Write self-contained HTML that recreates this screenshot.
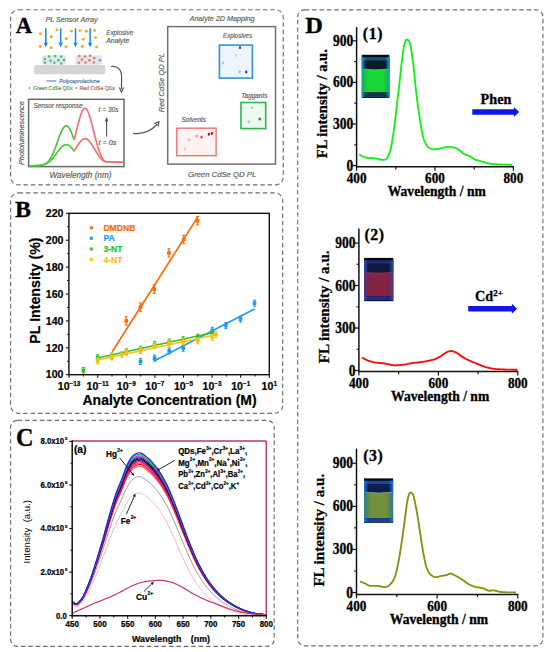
<!DOCTYPE html><html><head><meta charset="utf-8"><style>html,body{margin:0;padding:0;background:#fff;width:550px;height:652px;overflow:hidden}svg{display:block}.hw{font-family:"Liberation Sans",sans-serif;font-style:italic;fill:#5e5e5e;stroke:#5e5e5e;stroke-width:0.18}.sb{font-family:"Liberation Sans",sans-serif;font-weight:bold;stroke:#000;stroke-width:0.2}.s{font-family:"Liberation Sans",sans-serif}.rb{font-family:"Liberation Serif",serif;font-weight:bold;stroke:#000;stroke-width:0.3}</style></head><body>
<svg width="550" height="652" viewBox="0 0 550 652">
<rect x="10.6" y="9.7" width="272.7" height="175.2" rx="8" fill="none" stroke="#6e6e6e" stroke-width="1.15" stroke-dasharray="4.5 2.9"/>
<rect x="10.6" y="192.8" width="272.1" height="220.5" rx="8" fill="none" stroke="#6e6e6e" stroke-width="1.15" stroke-dasharray="4.5 2.9"/>
<rect x="10.6" y="420.3" width="263.6" height="226" rx="7" fill="none" stroke="#6e6e6e" stroke-width="1.15" stroke-dasharray="4.5 2.9"/>
<rect x="297.7" y="9.8" width="245.2" height="636" rx="7" fill="none" stroke="#6e6e6e" stroke-width="1.15" stroke-dasharray="4.5 2.9"/>
<text transform="translate(15.8,32.7) scale(1.03,1.08)" class="rb" font-size="22">A</text>
<text transform="translate(14.9,217.2) scale(1.09,1.04)" class="rb" font-size="22">B</text>
<text transform="translate(16.0,446.0) scale(1.1,1.12)" class="rb" font-size="22">C</text>
<text transform="translate(305.2,33.0) scale(1.11,1.01)" class="rb" font-size="22">D</text>
<text x="45.5" y="22.4" class="hw" font-size="7.4" textLength="52.0" lengthAdjust="spacingAndGlyphs">PL Sensor Array</text>
<text x="106.2" y="34.9" class="hw" font-size="7.4" textLength="27.0" lengthAdjust="spacingAndGlyphs">Explosive</text>
<text x="106.2" y="42.7" class="hw" font-size="7.4" textLength="23.1" lengthAdjust="spacingAndGlyphs">Analyte</text>
<circle cx="40.3" cy="33.7" r="1.45" fill="#ffa600"/>
<circle cx="51.3" cy="36.8" r="1.45" fill="#ffa600"/>
<circle cx="56.9" cy="29.9" r="1.45" fill="#ffa600"/>
<circle cx="40.3" cy="46.5" r="1.45" fill="#ffa600"/>
<circle cx="50.9" cy="47.7" r="1.45" fill="#ffa600"/>
<circle cx="66.2" cy="38.8" r="1.45" fill="#ffa600"/>
<circle cx="65.9" cy="46.7" r="1.45" fill="#ffa600"/>
<circle cx="71.5" cy="31.1" r="1.45" fill="#ffa600"/>
<circle cx="79.8" cy="30.6" r="1.45" fill="#ffa600"/>
<circle cx="86.3" cy="31.2" r="1.45" fill="#ffa600"/>
<circle cx="94.6" cy="30.4" r="1.45" fill="#ffa600"/>
<circle cx="83.1" cy="39.3" r="1.45" fill="#ffa600"/>
<circle cx="95.5" cy="37.6" r="1.45" fill="#ffa600"/>
<circle cx="82.3" cy="46.5" r="1.45" fill="#ffa600"/>
<circle cx="96.5" cy="47" r="1.45" fill="#ffa600"/>
<line x1="45.8" y1="28.3" x2="45.8" y2="44" stroke="#1e88e0" stroke-width="1.55"/>
<path d="M43.599999999999994,42.8 L48.0,42.8 L45.8,47.3 Z" fill="#1e88e0"/>
<line x1="60.7" y1="28.3" x2="60.7" y2="44" stroke="#1e88e0" stroke-width="1.55"/>
<path d="M58.5,42.8 L62.900000000000006,42.8 L60.7,47.3 Z" fill="#1e88e0"/>
<line x1="75.5" y1="28.3" x2="75.5" y2="44" stroke="#1e88e0" stroke-width="1.55"/>
<path d="M73.3,42.8 L77.7,42.8 L75.5,47.3 Z" fill="#1e88e0"/>
<line x1="90.1" y1="28.3" x2="90.1" y2="44" stroke="#1e88e0" stroke-width="1.55"/>
<path d="M87.89999999999999,42.8 L92.3,42.8 L90.1,47.3 Z" fill="#1e88e0"/>
<rect x="42" y="55.2" width="24.2" height="9.6" rx="2" fill="#dde6f5"/>
<rect x="75.5" y="55.2" width="26.3" height="9.6" rx="2" fill="#dde6f5"/>
<rect x="34" y="65" width="71.5" height="9.3" rx="2" fill="#d5d5d5"/>
<circle cx="49" cy="56.6" r="1.25" fill="#43c463"/>
<circle cx="55.1" cy="56" r="1.25" fill="#43c463"/>
<circle cx="61.3" cy="56.6" r="1.25" fill="#43c463"/>
<circle cx="44.9" cy="58.9" r="1.25" fill="#43c463"/>
<circle cx="50.5" cy="60.8" r="1.25" fill="#43c463"/>
<circle cx="58.3" cy="60.2" r="1.25" fill="#43c463"/>
<circle cx="64" cy="59.9" r="1.25" fill="#43c463"/>
<circle cx="44.9" cy="62.7" r="1.25" fill="#43c463"/>
<circle cx="54.3" cy="62.7" r="1.25" fill="#43c463"/>
<circle cx="61.3" cy="63.4" r="1.25" fill="#43c463"/>
<circle cx="79.3" cy="56" r="1.25" fill="#f4724f"/>
<circle cx="85" cy="56.6" r="1.25" fill="#f4724f"/>
<circle cx="90.1" cy="55.7" r="1.25" fill="#f4724f"/>
<circle cx="94.2" cy="57.9" r="1.25" fill="#f4724f"/>
<circle cx="81.8" cy="59.5" r="1.25" fill="#f4724f"/>
<circle cx="89.5" cy="60.2" r="1.25" fill="#f4724f"/>
<circle cx="99.9" cy="60.2" r="1.25" fill="#f4724f"/>
<circle cx="78.9" cy="62.7" r="1.25" fill="#f4724f"/>
<circle cx="85.5" cy="62.5" r="1.25" fill="#f4724f"/>
<circle cx="93.9" cy="62.5" r="1.25" fill="#f4724f"/>
<line x1="46.5" y1="81" x2="56.3" y2="81" stroke="#7aa9ea" stroke-width="1.6"/>
<text x="59.2" y="83.0" class="hw" font-size="5.8" textLength="40.4" lengthAdjust="spacingAndGlyphs" style="fill:#3a86e0">Polycaprolactone</text>
<circle cx="29.5" cy="88" r="0.9" fill="#43c463"/>
<text x="33.2" y="90.1" class="hw" font-size="5.8" textLength="39.5" lengthAdjust="spacingAndGlyphs" style="fill:#43c463">Green CdSe QDs</text>
<circle cx="76.3" cy="88" r="0.9" fill="#f4724f"/>
<text x="79.5" y="90.1" class="hw" font-size="5.8" textLength="35.6" lengthAdjust="spacingAndGlyphs" style="fill:#f4724f">Red CdSe QDs</text>
<path d="M111,66.5 C118,65.5 122,70 121.6,78 L121.5,89" fill="none" stroke="#555" stroke-width="1.2"/>
<path d="M119.4,87.5 L121.5,92 L123.6,87.5" fill="none" stroke="#555" stroke-width="1.2"/>
<rect x="28.6" y="99.3" width="95.4" height="67.3" fill="none" stroke="#676767" stroke-width="1.5"/>
<text x="33.4" y="108.2" class="hw" font-size="6.9" textLength="49.1" lengthAdjust="spacingAndGlyphs">Sensor response</text>
<text transform="translate(24.0,165.0) rotate(-90)" class="hw" font-size="7.6" textLength="63.7" lengthAdjust="spacingAndGlyphs">Photoluminescence</text>
<text x="49.5" y="177.6" class="hw" font-size="8.2" textLength="61.9" lengthAdjust="spacingAndGlyphs">Wavelength (nm)</text>
<text x="98.6" y="112.4" class="hw" font-size="6.7" textLength="20.0" lengthAdjust="spacingAndGlyphs">t = 30s</text>
<text x="98.6" y="145.1" class="hw" font-size="6.7" textLength="17.9" lengthAdjust="spacingAndGlyphs">t = 0s</text>
<line x1="106.6" y1="136.4" x2="106.6" y2="120" stroke="#555" stroke-width="1.1"/>
<path d="M104.8,121.5 L106.6,116.8 L108.4,121.5 Z" fill="#555"/>
<path d="M29.50,165.79L29.89,165.79L30.28,165.79L30.68,165.79L31.07,165.78L31.46,165.78L31.85,165.78L32.24,165.77L32.64,165.77L33.03,165.76L33.42,165.76L33.81,165.75L34.20,165.74L34.60,165.73L34.99,165.72L35.38,165.71L35.77,165.70L36.16,165.68L36.56,165.67L36.95,165.65L37.34,165.63L37.73,165.60L38.13,165.58L38.52,165.55L38.91,165.51L39.30,165.48L39.69,165.43L40.09,165.39L40.48,165.34L40.87,165.28L41.26,165.22L41.65,165.15L42.05,165.07L42.44,164.99L42.83,164.90L43.22,164.80L43.61,164.69L44.01,164.57L44.40,164.44L44.79,164.30L45.18,164.15L45.57,163.99L45.97,163.81L46.36,163.62L46.75,163.42L47.14,163.20L47.53,162.97L47.93,162.72L48.32,162.46L48.71,162.18L49.10,161.89L49.49,161.58L49.89,161.25L50.28,160.90L50.67,160.54L51.06,160.16L51.45,159.77L51.85,159.36L52.24,158.93L52.63,158.49L53.02,158.03L53.42,157.56L53.81,157.08L54.20,156.58L54.59,156.07L54.98,155.56L55.38,155.03L55.77,154.50L56.16,153.96L56.55,153.42L56.94,152.88L57.34,152.34L57.73,151.80L58.12,151.27L58.51,150.74L58.90,150.22L59.30,149.71L59.69,149.21L60.08,148.73L60.47,148.26L60.86,147.82L61.26,147.39L61.65,146.99L62.04,146.62L62.43,146.27L62.82,145.95L63.22,145.66L63.61,145.41L64.00,145.18L64.39,145.00L64.78,144.84L65.18,144.73L65.57,144.65L65.96,144.61L66.35,144.60L66.74,144.64L67.14,144.71L67.53,144.82L67.92,144.96L68.31,145.14L68.71,145.36L69.10,145.60L69.49,145.89L69.88,146.20L70.27,146.54L70.67,146.91L71.06,147.30L71.45,147.72L71.84,148.16L72.23,148.62L72.63,149.10L73.02,149.60L73.41,150.10L73.80,150.62L74.19,151.15" fill="none" stroke="#4cc63a" stroke-width="1.7"/>
<path d="M74.19,151.15L74.59,150.57L74.98,149.91L75.37,149.24L75.76,148.58L76.15,147.92L76.55,147.26L76.94,146.61L77.33,145.98L77.72,145.35L78.11,144.74L78.51,144.14L78.90,143.56L79.29,143.01L79.68,142.48L80.07,141.98L80.47,141.50L80.86,141.06L81.25,140.65L81.64,140.28L82.03,139.94L82.43,139.64L82.82,139.38L83.21,139.16L83.60,138.98L83.99,138.85L84.39,138.75L84.78,138.71L85.17,138.70L85.56,138.75L85.96,138.83L86.35,138.96L86.74,139.13L87.13,139.35L87.52,139.60L87.92,139.90L88.31,140.23L88.70,140.60L89.09,141.01L89.48,141.45L89.88,141.92L90.27,142.42L90.66,142.94L91.05,143.49L91.44,144.07L91.84,144.66L92.23,145.27L92.62,145.90L93.01,146.53L93.40,147.18L93.80,147.84L94.19,148.50L94.58,149.16L94.97,149.82L95.36,150.49L95.76,151.15L96.15,151.80L96.54,152.45L96.93,153.08L97.32,153.71L97.72,154.32L98.11,154.92L98.50,155.50L98.89,156.07L99.28,156.62L99.68,157.15L100.07,157.66L100.46,158.14L100.85,158.61L101.25,159.04L101.64,159.46L102.03,159.84L102.42,160.19L102.81,160.51L103.21,160.79L103.60,161.04L103.99,161.25L104.38,161.42L104.77,161.56L105.17,161.66L105.56,161.74L105.95,161.79L106.34,161.83L106.73,161.85L107.13,161.86L107.52,161.87L107.91,161.87L108.30,161.87L108.69,161.86L109.09,161.86L109.48,161.86L109.87,161.85L110.26,161.84L110.65,161.84L111.05,161.84L111.44,161.83L111.83,161.83L112.22,161.82L112.61,161.82L113.01,161.82L113.40,161.82L113.79,161.81L114.18,161.81L114.57,161.81L114.97,161.81L115.36,161.81L115.75,161.81L116.14,161.81L116.54,161.81L116.93,161.81L117.32,161.80L117.71,161.80L118.10,161.80L118.50,161.80L118.89,161.80L119.28,161.80L119.67,161.80L120.06,161.80L120.46,161.80L120.85,161.80L121.24,161.80L121.63,161.80L122.02,161.80L122.42,161.80L122.81,161.80L123.20,161.80" fill="none" stroke="#f47272" stroke-width="1.7"/>
<path d="M29.50,165.80L29.89,165.79L30.28,165.79L30.68,165.79L31.07,165.79L31.46,165.79L31.85,165.79L32.24,165.78L32.64,165.78L33.03,165.78L33.42,165.77L33.81,165.77L34.20,165.76L34.60,165.75L34.99,165.74L35.38,165.73L35.77,165.72L36.16,165.71L36.56,165.69L36.95,165.68L37.34,165.66L37.73,165.63L38.13,165.61L38.52,165.58L38.91,165.54L39.30,165.50L39.69,165.45L40.09,165.40L40.48,165.34L40.87,165.28L41.26,165.20L41.65,165.12L42.05,165.03L42.44,164.92L42.83,164.80L43.22,164.67L43.61,164.53L44.01,164.37L44.40,164.19L44.79,164.00L45.18,163.78L45.57,163.55L45.97,163.29L46.36,163.01L46.75,162.70L47.14,162.37L47.53,162.01L47.93,161.62L48.32,161.19L48.71,160.74L49.10,160.26L49.49,159.74L49.89,159.18L50.28,158.59L50.67,157.97L51.06,157.30L51.45,156.60L51.85,155.86L52.24,155.09L52.63,154.28L53.02,153.43L53.42,152.55L53.81,151.64L54.20,150.69L54.59,149.72L54.98,148.71L55.38,147.69L55.77,146.64L56.16,145.57L56.55,144.48L56.94,143.39L57.34,142.28L57.73,141.18L58.12,140.07L58.51,138.98L58.90,137.89L59.30,136.82L59.69,135.77L60.08,134.75L60.47,133.76L60.86,132.80L61.26,131.89L61.65,131.03L62.04,130.22L62.43,129.46L62.82,128.77L63.22,128.14L63.61,127.58L64.00,127.09L64.39,126.67L64.78,126.34L65.18,126.08L65.57,125.91L65.96,125.82L66.35,125.81L66.74,125.88L67.14,126.04L67.53,126.27L67.92,126.59L68.31,126.99L68.71,127.46L69.10,128.01L69.49,128.62L69.88,129.30L70.27,130.04L70.67,130.84L71.06,131.70L71.45,132.60L71.84,133.54L72.23,134.53L72.63,135.54L73.02,136.59L73.41,137.65L73.80,138.74L74.19,139.74" fill="none" stroke="#4cc63a" stroke-width="1.7"/>
<path d="M74.19,139.74L74.59,138.23L74.98,136.69L75.37,135.14L75.76,133.56L76.15,131.98L76.55,130.39L76.94,128.81L77.33,127.23L77.72,125.68L78.11,124.14L78.51,122.64L78.90,121.17L79.29,119.75L79.68,118.39L80.07,117.08L80.47,115.85L80.86,114.68L81.25,113.60L81.64,112.61L82.03,111.71L82.43,110.91L82.82,110.22L83.21,109.63L83.60,109.15L83.99,108.79L84.39,108.55L84.78,108.42L85.17,108.41L85.56,108.52L85.96,108.75L86.35,109.10L86.74,109.56L87.13,110.14L87.52,110.82L87.92,111.61L88.31,112.49L88.70,113.47L89.09,114.54L89.48,115.69L89.88,116.92L90.27,118.22L90.66,119.58L91.05,120.99L91.44,122.45L91.84,123.95L92.23,125.48L92.62,127.04L93.01,128.61L93.40,130.19L93.80,131.78L94.19,133.36L94.58,134.94L94.97,136.50L95.36,138.03L95.76,139.55L96.15,141.03L96.54,142.47L96.93,143.88L97.32,145.24L97.72,146.56L98.11,147.84L98.50,149.06L98.89,150.23L99.28,151.35L99.68,152.41L100.07,153.42L100.46,154.38L100.85,155.28L101.25,156.13L101.64,156.92L102.03,157.66L102.42,158.34L102.81,158.96L103.21,159.53L103.60,160.03L103.99,160.47L104.38,160.84L104.77,161.14L105.17,161.38L105.56,161.56L105.95,161.69L106.34,161.77L106.73,161.82L107.13,161.85L107.52,161.87L107.91,161.87L108.30,161.87L108.69,161.87L109.09,161.86L109.48,161.86L109.87,161.85L110.26,161.85L110.65,161.84L111.05,161.84L111.44,161.83L111.83,161.83L112.22,161.82L112.61,161.82L113.01,161.82L113.40,161.82L113.79,161.81L114.18,161.81L114.57,161.81L114.97,161.81L115.36,161.81L115.75,161.81L116.14,161.81L116.54,161.81L116.93,161.81L117.32,161.80L117.71,161.80L118.10,161.80L118.50,161.80L118.89,161.80L119.28,161.80L119.67,161.80L120.06,161.80L120.46,161.80L120.85,161.80L121.24,161.80L121.63,161.80L122.02,161.80L122.42,161.80L122.81,161.80L123.20,161.80" fill="none" stroke="#f47272" stroke-width="1.7"/>
<path d="M133.1,133.3 C143,134.5 151,131 157.5,124" fill="none" stroke="#555" stroke-width="1.2"/>
<path d="M154.4,123.6 L158.9,121.8 L158.2,126.5" fill="none" stroke="#555" stroke-width="1.2"/>
<text x="189.8" y="20.6" class="hw" font-size="7.3" textLength="64.7" lengthAdjust="spacingAndGlyphs">Analyte 2D Mapping</text>
<rect x="167.7" y="26.6" width="107.8" height="137.5" fill="none" stroke="#707070" stroke-width="1.5"/>
<text transform="translate(163.6,112.3) rotate(-90)" class="hw" font-size="7.6" textLength="59.3" lengthAdjust="spacingAndGlyphs">Red CdSe QD PL</text>
<text x="188.0" y="177.3" class="hw" font-size="7.6" textLength="68.2" lengthAdjust="spacingAndGlyphs">Green CdSe QD PL</text>
<text x="223.1" y="38.3" class="hw" font-size="6.8" textLength="28.9" lengthAdjust="spacingAndGlyphs">Explosives</text>
<rect x="219.4" y="45.1" width="33" height="33" fill="#eef4fc" stroke="#2f92dc" stroke-width="1.6"/>
<rect x="239" y="46.300000000000004" width="2" height="2.6" fill="#1a4fb5"/>
<rect x="234.9" y="54.1" width="2" height="2.6" fill="#c8dcf2"/>
<rect x="222.1" y="61.5" width="2" height="2.6" fill="#a9c8ee"/>
<rect x="238.6" y="70.60000000000001" width="2" height="2.6" fill="#8cb6ea"/>
<rect x="245.2" y="70.60000000000001" width="2" height="2.6" fill="#143f99"/>
<text x="241.3" y="98.3" class="hw" font-size="6.8" textLength="26.1" lengthAdjust="spacingAndGlyphs">Taggants</text>
<rect x="241" y="102.5" width="24.7" height="26.1" fill="#eef8f0" stroke="#2db54b" stroke-width="1.6"/>
<rect x="250.9" y="106.4" width="2" height="2.6" fill="#9fe0a8"/>
<rect x="247.7" y="120.60000000000001" width="2" height="2.6" fill="#8ad495"/>
<rect x="258.7" y="117.7" width="2" height="2.6" fill="#137a2a"/>
<text x="181.4" y="122.4" class="hw" font-size="6.8" textLength="24.7" lengthAdjust="spacingAndGlyphs">Solvents</text>
<rect x="176.7" y="128.2" width="39.4" height="27.5" fill="#fdf1f1" stroke="#f27a7a" stroke-width="1.5"/>
<rect x="207.9" y="132.89999999999998" width="2" height="2.6" fill="#c8001a"/>
<rect x="210.9" y="132.1" width="2" height="2.6" fill="#c8001a"/>
<rect x="200.5" y="135.79999999999998" width="2" height="2.6" fill="#f03040"/>
<rect x="195.6" y="134.79999999999998" width="2" height="2.6" fill="#f58a94"/>
<rect x="188.3" y="138.5" width="2" height="2.6" fill="#f7a2a2"/>
<rect x="183.9" y="147.6" width="2" height="2.6" fill="#f9c4c0"/>
<rect x="68.9" y="213.3" width="200.4" height="161.39999999999998" fill="none" stroke="#111" stroke-width="1.4"/>
<line x1="65.9" y1="374.70" x2="68.9" y2="374.70" stroke="#111" stroke-width="1.1"/>
<text x="63.5" y="378.40" class="sb" font-size="10.6" text-anchor="end">100</text>
<line x1="65.9" y1="347.80" x2="68.9" y2="347.80" stroke="#111" stroke-width="1.1"/>
<text x="63.5" y="351.50" class="sb" font-size="10.6" text-anchor="end">120</text>
<line x1="65.9" y1="320.91" x2="68.9" y2="320.91" stroke="#111" stroke-width="1.1"/>
<text x="63.5" y="324.61" class="sb" font-size="10.6" text-anchor="end">140</text>
<line x1="65.9" y1="294.01" x2="68.9" y2="294.01" stroke="#111" stroke-width="1.1"/>
<text x="63.5" y="297.71" class="sb" font-size="10.6" text-anchor="end">160</text>
<line x1="65.9" y1="267.12" x2="68.9" y2="267.12" stroke="#111" stroke-width="1.1"/>
<text x="63.5" y="270.82" class="sb" font-size="10.6" text-anchor="end">180</text>
<line x1="65.9" y1="240.22" x2="68.9" y2="240.22" stroke="#111" stroke-width="1.1"/>
<text x="63.5" y="243.92" class="sb" font-size="10.6" text-anchor="end">200</text>
<line x1="65.9" y1="213.32" x2="68.9" y2="213.32" stroke="#111" stroke-width="1.1"/>
<text x="63.5" y="217.02" class="sb" font-size="10.6" text-anchor="end">220</text>
<line x1="67.10000000000001" y1="361.25" x2="68.9" y2="361.25" stroke="#111" stroke-width="1"/>
<line x1="67.10000000000001" y1="334.36" x2="68.9" y2="334.36" stroke="#111" stroke-width="1"/>
<line x1="67.10000000000001" y1="307.46" x2="68.9" y2="307.46" stroke="#111" stroke-width="1"/>
<line x1="67.10000000000001" y1="280.56" x2="68.9" y2="280.56" stroke="#111" stroke-width="1"/>
<line x1="67.10000000000001" y1="253.67" x2="68.9" y2="253.67" stroke="#111" stroke-width="1"/>
<line x1="67.10000000000001" y1="226.77" x2="68.9" y2="226.77" stroke="#111" stroke-width="1"/>
<line x1="69.10" y1="374.7" x2="69.10" y2="377.7" stroke="#111" stroke-width="1.1"/>
<line x1="83.40" y1="374.7" x2="83.40" y2="376.5" stroke="#111" stroke-width="1.1"/>
<line x1="97.70" y1="374.7" x2="97.70" y2="377.7" stroke="#111" stroke-width="1.1"/>
<line x1="112.00" y1="374.7" x2="112.00" y2="376.5" stroke="#111" stroke-width="1.1"/>
<line x1="126.30" y1="374.7" x2="126.30" y2="377.7" stroke="#111" stroke-width="1.1"/>
<line x1="140.60" y1="374.7" x2="140.60" y2="376.5" stroke="#111" stroke-width="1.1"/>
<line x1="154.90" y1="374.7" x2="154.90" y2="377.7" stroke="#111" stroke-width="1.1"/>
<line x1="169.20" y1="374.7" x2="169.20" y2="376.5" stroke="#111" stroke-width="1.1"/>
<line x1="183.50" y1="374.7" x2="183.50" y2="377.7" stroke="#111" stroke-width="1.1"/>
<line x1="197.80" y1="374.7" x2="197.80" y2="376.5" stroke="#111" stroke-width="1.1"/>
<line x1="212.10" y1="374.7" x2="212.10" y2="377.7" stroke="#111" stroke-width="1.1"/>
<line x1="226.40" y1="374.7" x2="226.40" y2="376.5" stroke="#111" stroke-width="1.1"/>
<line x1="240.70" y1="374.7" x2="240.70" y2="377.7" stroke="#111" stroke-width="1.1"/>
<line x1="255.00" y1="374.7" x2="255.00" y2="376.5" stroke="#111" stroke-width="1.1"/>
<line x1="269.30" y1="374.7" x2="269.30" y2="377.7" stroke="#111" stroke-width="1.1"/>
<text x="69.10" y="390.2" class="sb" font-size="10.6" text-anchor="middle">10<tspan font-size="6.4" dy="-4.0">−13</tspan></text>
<text x="97.70" y="390.2" class="sb" font-size="10.6" text-anchor="middle">10<tspan font-size="6.4" dy="-4.0">−11</tspan></text>
<text x="126.30" y="390.2" class="sb" font-size="10.6" text-anchor="middle">10<tspan font-size="6.4" dy="-4.0">−9</tspan></text>
<text x="154.90" y="390.2" class="sb" font-size="10.6" text-anchor="middle">10<tspan font-size="6.4" dy="-4.0">−7</tspan></text>
<text x="183.50" y="390.2" class="sb" font-size="10.6" text-anchor="middle">10<tspan font-size="6.4" dy="-4.0">−5</tspan></text>
<text x="212.10" y="390.2" class="sb" font-size="10.6" text-anchor="middle">10<tspan font-size="6.4" dy="-4.0">−3</tspan></text>
<text x="240.70" y="390.2" class="sb" font-size="10.6" text-anchor="middle">10<tspan font-size="6.4" dy="-4.0">−1</tspan></text>
<text x="269.30" y="390.2" class="sb" font-size="10.6" text-anchor="middle">10<tspan font-size="6.4" dy="-4.0">1</tspan></text>
<text x="169.6" y="405" class="sb" font-size="14" text-anchor="middle">Analyte Concentration (M)</text>
<text transform="translate(40.0,290.6) rotate(-90)" class="sb" font-size="14.2" text-anchor="middle">PL Intensity (%)</text>
<rect x="89.8" y="226.3" width="3" height="3" fill="#ff6a08"/>
<text x="103.4" y="230.9" class="sb" font-size="8.6" style="fill:#ff6a08;stroke:#ff6a08">DMDNB</text>
<rect x="89.8" y="236.8" width="3" height="3" fill="#1c9cf0"/>
<text x="103.4" y="241.4" class="sb" font-size="8.6" style="fill:#1c9cf0;stroke:#1c9cf0">PA</text>
<rect x="89.8" y="247.5" width="3" height="3" fill="#36c01e"/>
<text x="103.4" y="252.1" class="sb" font-size="8.6" style="fill:#36c01e;stroke:#36c01e">3-NT</text>
<rect x="89.8" y="257.9" width="3" height="3" fill="#fdbd12"/>
<text x="103.4" y="262.5" class="sb" font-size="8.6" style="fill:#fdbd12;stroke:#fdbd12">4-NT</text>
<line x1="140.50" y1="358.50" x2="140.50" y2="364.50" stroke="#1c9cf0" stroke-width="1.2"/><line x1="139.00" y1="358.50" x2="142.00" y2="358.50" stroke="#1c9cf0" stroke-width="1.1"/><line x1="139.00" y1="364.50" x2="142.00" y2="364.50" stroke="#1c9cf0" stroke-width="1.1"/><rect x="138.70" y="359.70" width="3.6" height="3.6" fill="#1c9cf0"/>
<line x1="154.60" y1="355.20" x2="154.60" y2="361.20" stroke="#1c9cf0" stroke-width="1.2"/><line x1="153.10" y1="355.20" x2="156.10" y2="355.20" stroke="#1c9cf0" stroke-width="1.1"/><line x1="153.10" y1="361.20" x2="156.10" y2="361.20" stroke="#1c9cf0" stroke-width="1.1"/><rect x="152.80" y="356.40" width="3.6" height="3.6" fill="#1c9cf0"/>
<line x1="169.20" y1="347.90" x2="169.20" y2="353.90" stroke="#1c9cf0" stroke-width="1.2"/><line x1="167.70" y1="347.90" x2="170.70" y2="347.90" stroke="#1c9cf0" stroke-width="1.1"/><line x1="167.70" y1="353.90" x2="170.70" y2="353.90" stroke="#1c9cf0" stroke-width="1.1"/><rect x="167.40" y="349.10" width="3.6" height="3.6" fill="#1c9cf0"/>
<line x1="183.20" y1="345.20" x2="183.20" y2="351.20" stroke="#1c9cf0" stroke-width="1.2"/><line x1="181.70" y1="345.20" x2="184.70" y2="345.20" stroke="#1c9cf0" stroke-width="1.1"/><line x1="181.70" y1="351.20" x2="184.70" y2="351.20" stroke="#1c9cf0" stroke-width="1.1"/><rect x="181.40" y="346.40" width="3.6" height="3.6" fill="#1c9cf0"/>
<line x1="212.30" y1="327.40" x2="212.30" y2="333.40" stroke="#1c9cf0" stroke-width="1.2"/><line x1="210.80" y1="327.40" x2="213.80" y2="327.40" stroke="#1c9cf0" stroke-width="1.1"/><line x1="210.80" y1="333.40" x2="213.80" y2="333.40" stroke="#1c9cf0" stroke-width="1.1"/><rect x="210.50" y="328.60" width="3.6" height="3.6" fill="#1c9cf0"/>
<line x1="225.90" y1="322.50" x2="225.90" y2="328.50" stroke="#1c9cf0" stroke-width="1.2"/><line x1="224.40" y1="322.50" x2="227.40" y2="322.50" stroke="#1c9cf0" stroke-width="1.1"/><line x1="224.40" y1="328.50" x2="227.40" y2="328.50" stroke="#1c9cf0" stroke-width="1.1"/><rect x="224.10" y="323.70" width="3.6" height="3.6" fill="#1c9cf0"/>
<line x1="240.50" y1="316.10" x2="240.50" y2="322.10" stroke="#1c9cf0" stroke-width="1.2"/><line x1="239.00" y1="316.10" x2="242.00" y2="316.10" stroke="#1c9cf0" stroke-width="1.1"/><line x1="239.00" y1="322.10" x2="242.00" y2="322.10" stroke="#1c9cf0" stroke-width="1.1"/><rect x="238.70" y="317.30" width="3.6" height="3.6" fill="#1c9cf0"/>
<line x1="254.50" y1="300.20" x2="254.50" y2="306.20" stroke="#1c9cf0" stroke-width="1.2"/><line x1="253.00" y1="300.20" x2="256.00" y2="300.20" stroke="#1c9cf0" stroke-width="1.1"/><line x1="253.00" y1="306.20" x2="256.00" y2="306.20" stroke="#1c9cf0" stroke-width="1.1"/><rect x="252.70" y="301.40" width="3.6" height="3.6" fill="#1c9cf0"/>
<line x1="154.1" y1="360.9" x2="254.5" y2="309" stroke="#1c9cf0" stroke-width="1.7"/>
<line x1="83.40" y1="367.50" x2="83.40" y2="373.10" stroke="#36c01e" stroke-width="1.2"/><line x1="81.90" y1="367.50" x2="84.90" y2="367.50" stroke="#36c01e" stroke-width="1.1"/><line x1="81.90" y1="373.10" x2="84.90" y2="373.10" stroke="#36c01e" stroke-width="1.1"/><rect x="81.60" y="368.50" width="3.6" height="3.6" fill="#36c01e"/>
<line x1="97.60" y1="354.80" x2="97.60" y2="360.40" stroke="#36c01e" stroke-width="1.2"/><line x1="96.10" y1="354.80" x2="99.10" y2="354.80" stroke="#36c01e" stroke-width="1.1"/><line x1="96.10" y1="360.40" x2="99.10" y2="360.40" stroke="#36c01e" stroke-width="1.1"/><rect x="95.80" y="355.80" width="3.6" height="3.6" fill="#36c01e"/>
<line x1="111.80" y1="353.00" x2="111.80" y2="358.60" stroke="#36c01e" stroke-width="1.2"/><line x1="110.30" y1="353.00" x2="113.30" y2="353.00" stroke="#36c01e" stroke-width="1.1"/><line x1="110.30" y1="358.60" x2="113.30" y2="358.60" stroke="#36c01e" stroke-width="1.1"/><rect x="110.00" y="354.00" width="3.6" height="3.6" fill="#36c01e"/>
<line x1="126.40" y1="348.70" x2="126.40" y2="354.30" stroke="#36c01e" stroke-width="1.2"/><line x1="124.90" y1="348.70" x2="127.90" y2="348.70" stroke="#36c01e" stroke-width="1.1"/><line x1="124.90" y1="354.30" x2="127.90" y2="354.30" stroke="#36c01e" stroke-width="1.1"/><rect x="124.60" y="349.70" width="3.6" height="3.6" fill="#36c01e"/>
<line x1="140.50" y1="346.30" x2="140.50" y2="351.90" stroke="#36c01e" stroke-width="1.2"/><line x1="139.00" y1="346.30" x2="142.00" y2="346.30" stroke="#36c01e" stroke-width="1.1"/><line x1="139.00" y1="351.90" x2="142.00" y2="351.90" stroke="#36c01e" stroke-width="1.1"/><rect x="138.70" y="347.30" width="3.6" height="3.6" fill="#36c01e"/>
<line x1="154.60" y1="341.40" x2="154.60" y2="347.00" stroke="#36c01e" stroke-width="1.2"/><line x1="153.10" y1="341.40" x2="156.10" y2="341.40" stroke="#36c01e" stroke-width="1.1"/><line x1="153.10" y1="347.00" x2="156.10" y2="347.00" stroke="#36c01e" stroke-width="1.1"/><rect x="152.80" y="342.40" width="3.6" height="3.6" fill="#36c01e"/>
<line x1="169.20" y1="339.00" x2="169.20" y2="344.60" stroke="#36c01e" stroke-width="1.2"/><line x1="167.70" y1="339.00" x2="170.70" y2="339.00" stroke="#36c01e" stroke-width="1.1"/><line x1="167.70" y1="344.60" x2="170.70" y2="344.60" stroke="#36c01e" stroke-width="1.1"/><rect x="167.40" y="340.00" width="3.6" height="3.6" fill="#36c01e"/>
<line x1="183.20" y1="336.70" x2="183.20" y2="342.30" stroke="#36c01e" stroke-width="1.2"/><line x1="181.70" y1="336.70" x2="184.70" y2="336.70" stroke="#36c01e" stroke-width="1.1"/><line x1="181.70" y1="342.30" x2="184.70" y2="342.30" stroke="#36c01e" stroke-width="1.1"/><rect x="181.40" y="337.70" width="3.6" height="3.6" fill="#36c01e"/>
<line x1="197.70" y1="334.10" x2="197.70" y2="339.70" stroke="#36c01e" stroke-width="1.2"/><line x1="196.20" y1="334.10" x2="199.20" y2="334.10" stroke="#36c01e" stroke-width="1.1"/><line x1="196.20" y1="339.70" x2="199.20" y2="339.70" stroke="#36c01e" stroke-width="1.1"/><rect x="195.90" y="335.10" width="3.6" height="3.6" fill="#36c01e"/>
<line x1="212.30" y1="329.90" x2="212.30" y2="335.50" stroke="#36c01e" stroke-width="1.2"/><line x1="210.80" y1="329.90" x2="213.80" y2="329.90" stroke="#36c01e" stroke-width="1.1"/><line x1="210.80" y1="335.50" x2="213.80" y2="335.50" stroke="#36c01e" stroke-width="1.1"/><rect x="210.50" y="330.90" width="3.6" height="3.6" fill="#36c01e"/>
<line x1="97.6" y1="358" x2="212.3" y2="332.7" stroke="#36c01e" stroke-width="1.6"/>
<line x1="97.60" y1="358.00" x2="97.60" y2="364.00" stroke="#fdbd12" stroke-width="1.2"/><line x1="96.10" y1="358.00" x2="99.10" y2="358.00" stroke="#fdbd12" stroke-width="1.1"/><line x1="96.10" y1="364.00" x2="99.10" y2="364.00" stroke="#fdbd12" stroke-width="1.1"/><rect x="95.80" y="359.20" width="3.6" height="3.6" fill="#fdbd12"/>
<line x1="111.80" y1="354.00" x2="111.80" y2="360.00" stroke="#fdbd12" stroke-width="1.2"/><line x1="110.30" y1="354.00" x2="113.30" y2="354.00" stroke="#fdbd12" stroke-width="1.1"/><line x1="110.30" y1="360.00" x2="113.30" y2="360.00" stroke="#fdbd12" stroke-width="1.1"/><rect x="110.00" y="355.20" width="3.6" height="3.6" fill="#fdbd12"/>
<line x1="121.80" y1="351.50" x2="121.80" y2="357.50" stroke="#fdbd12" stroke-width="1.2"/><line x1="120.30" y1="351.50" x2="123.30" y2="351.50" stroke="#fdbd12" stroke-width="1.1"/><line x1="120.30" y1="357.50" x2="123.30" y2="357.50" stroke="#fdbd12" stroke-width="1.1"/><rect x="120.00" y="352.70" width="3.6" height="3.6" fill="#fdbd12"/>
<line x1="126.40" y1="349.30" x2="126.40" y2="355.30" stroke="#fdbd12" stroke-width="1.2"/><line x1="124.90" y1="349.30" x2="127.90" y2="349.30" stroke="#fdbd12" stroke-width="1.1"/><line x1="124.90" y1="355.30" x2="127.90" y2="355.30" stroke="#fdbd12" stroke-width="1.1"/><rect x="124.60" y="350.50" width="3.6" height="3.6" fill="#fdbd12"/>
<line x1="140.50" y1="347.40" x2="140.50" y2="353.40" stroke="#fdbd12" stroke-width="1.2"/><line x1="139.00" y1="347.40" x2="142.00" y2="347.40" stroke="#fdbd12" stroke-width="1.1"/><line x1="139.00" y1="353.40" x2="142.00" y2="353.40" stroke="#fdbd12" stroke-width="1.1"/><rect x="138.70" y="348.60" width="3.6" height="3.6" fill="#fdbd12"/>
<line x1="154.60" y1="342.50" x2="154.60" y2="348.50" stroke="#fdbd12" stroke-width="1.2"/><line x1="153.10" y1="342.50" x2="156.10" y2="342.50" stroke="#fdbd12" stroke-width="1.1"/><line x1="153.10" y1="348.50" x2="156.10" y2="348.50" stroke="#fdbd12" stroke-width="1.1"/><rect x="152.80" y="343.70" width="3.6" height="3.6" fill="#fdbd12"/>
<line x1="169.20" y1="340.10" x2="169.20" y2="346.10" stroke="#fdbd12" stroke-width="1.2"/><line x1="167.70" y1="340.10" x2="170.70" y2="340.10" stroke="#fdbd12" stroke-width="1.1"/><line x1="167.70" y1="346.10" x2="170.70" y2="346.10" stroke="#fdbd12" stroke-width="1.1"/><rect x="167.40" y="341.30" width="3.6" height="3.6" fill="#fdbd12"/>
<line x1="183.20" y1="338.80" x2="183.20" y2="344.80" stroke="#fdbd12" stroke-width="1.2"/><line x1="181.70" y1="338.80" x2="184.70" y2="338.80" stroke="#fdbd12" stroke-width="1.1"/><line x1="181.70" y1="344.80" x2="184.70" y2="344.80" stroke="#fdbd12" stroke-width="1.1"/><rect x="181.40" y="340.00" width="3.6" height="3.6" fill="#fdbd12"/>
<line x1="197.70" y1="337.90" x2="197.70" y2="343.90" stroke="#fdbd12" stroke-width="1.2"/><line x1="196.20" y1="337.90" x2="199.20" y2="337.90" stroke="#fdbd12" stroke-width="1.1"/><line x1="196.20" y1="343.90" x2="199.20" y2="343.90" stroke="#fdbd12" stroke-width="1.1"/><rect x="195.90" y="339.10" width="3.6" height="3.6" fill="#fdbd12"/>
<line x1="212.30" y1="334.30" x2="212.30" y2="340.30" stroke="#fdbd12" stroke-width="1.2"/><line x1="210.80" y1="334.30" x2="213.80" y2="334.30" stroke="#fdbd12" stroke-width="1.1"/><line x1="210.80" y1="340.30" x2="213.80" y2="340.30" stroke="#fdbd12" stroke-width="1.1"/><rect x="210.50" y="335.50" width="3.6" height="3.6" fill="#fdbd12"/>
<line x1="215.90" y1="331.50" x2="215.90" y2="337.50" stroke="#fdbd12" stroke-width="1.2"/><line x1="214.40" y1="331.50" x2="217.40" y2="331.50" stroke="#fdbd12" stroke-width="1.1"/><line x1="214.40" y1="337.50" x2="217.40" y2="337.50" stroke="#fdbd12" stroke-width="1.1"/><rect x="214.10" y="332.70" width="3.6" height="3.6" fill="#fdbd12"/>
<line x1="97.6" y1="360" x2="216.8" y2="334.5" stroke="#fdbd12" stroke-width="1.7"/>
<line x1="126.20" y1="316.70" x2="126.20" y2="325.10" stroke="#ff6a08" stroke-width="1.2"/><line x1="124.70" y1="316.70" x2="127.70" y2="316.70" stroke="#ff6a08" stroke-width="1.1"/><line x1="124.70" y1="325.10" x2="127.70" y2="325.10" stroke="#ff6a08" stroke-width="1.1"/><rect x="124.40" y="319.10" width="3.6" height="3.6" fill="#ff6a08"/>
<line x1="140.40" y1="302.90" x2="140.40" y2="311.30" stroke="#ff6a08" stroke-width="1.2"/><line x1="138.90" y1="302.90" x2="141.90" y2="302.90" stroke="#ff6a08" stroke-width="1.1"/><line x1="138.90" y1="311.30" x2="141.90" y2="311.30" stroke="#ff6a08" stroke-width="1.1"/><rect x="138.60" y="305.30" width="3.6" height="3.6" fill="#ff6a08"/>
<line x1="154.20" y1="285.00" x2="154.20" y2="293.40" stroke="#ff6a08" stroke-width="1.2"/><line x1="152.70" y1="285.00" x2="155.70" y2="285.00" stroke="#ff6a08" stroke-width="1.1"/><line x1="152.70" y1="293.40" x2="155.70" y2="293.40" stroke="#ff6a08" stroke-width="1.1"/><rect x="152.40" y="287.40" width="3.6" height="3.6" fill="#ff6a08"/>
<line x1="168.90" y1="248.70" x2="168.90" y2="257.10" stroke="#ff6a08" stroke-width="1.2"/><line x1="167.40" y1="248.70" x2="170.40" y2="248.70" stroke="#ff6a08" stroke-width="1.1"/><line x1="167.40" y1="257.10" x2="170.40" y2="257.10" stroke="#ff6a08" stroke-width="1.1"/><rect x="167.10" y="251.10" width="3.6" height="3.6" fill="#ff6a08"/>
<line x1="183.70" y1="235.30" x2="183.70" y2="243.70" stroke="#ff6a08" stroke-width="1.2"/><line x1="182.20" y1="235.30" x2="185.20" y2="235.30" stroke="#ff6a08" stroke-width="1.1"/><line x1="182.20" y1="243.70" x2="185.20" y2="243.70" stroke="#ff6a08" stroke-width="1.1"/><rect x="181.90" y="237.70" width="3.6" height="3.6" fill="#ff6a08"/>
<line x1="197.50" y1="216.50" x2="197.50" y2="224.90" stroke="#ff6a08" stroke-width="1.2"/><line x1="196.00" y1="216.50" x2="199.00" y2="216.50" stroke="#ff6a08" stroke-width="1.1"/><line x1="196.00" y1="224.90" x2="199.00" y2="224.90" stroke="#ff6a08" stroke-width="1.1"/><rect x="195.70" y="218.90" width="3.6" height="3.6" fill="#ff6a08"/>
<line x1="112.2" y1="351.8" x2="197.5" y2="217.4" stroke="#ff6a08" stroke-width="1.7"/>
<line x1="72.2" y1="441.0" x2="266.3" y2="441.0" stroke="#b8385a" stroke-width="1.4"/>
<line x1="266.3" y1="441.0" x2="266.3" y2="615.8" stroke="#b8385a" stroke-width="1.4"/>
<path d="M72.20,604.46L72.85,605.21L73.50,605.77L74.15,606.05L74.80,606.27L75.45,606.44L76.10,606.55L76.74,606.58L77.39,606.41L78.04,606.03L78.69,605.52L79.34,605.00L79.99,604.47L80.64,603.87L81.29,603.20L81.94,602.46L82.59,601.68L83.24,600.85L83.89,599.95L84.53,598.97L85.18,597.92L85.83,596.80L86.48,595.63L87.13,594.41L87.78,593.16L88.43,591.89L89.08,590.60L89.73,589.31L90.38,587.99L91.03,586.63L91.68,585.22L92.33,583.78L92.97,582.30L93.62,580.81L94.27,579.29L94.92,577.76L95.57,576.22L96.22,574.67L96.87,573.11L97.52,571.53L98.17,569.93L98.82,568.31L99.47,566.67L100.12,565.01L100.76,563.34L101.41,561.66L102.06,559.97L102.71,558.26L103.36,556.54L104.01,554.77L104.66,552.99L105.31,551.19L105.96,549.39L106.61,547.58L107.26,545.79L107.91,544.02L108.56,542.27L109.20,540.56L109.85,538.84L110.50,537.12L111.15,535.40L111.80,533.70L112.45,532.02L113.10,530.36L113.75,528.76L114.40,527.20L115.05,525.71L115.70,524.29L116.35,522.95L116.99,521.66L117.64,520.42L118.29,519.21L118.94,518.03L119.59,516.85L120.24,515.67L120.89,514.47L121.54,513.25L122.19,511.97L122.84,510.63L123.49,509.24L124.14,507.84L124.78,506.45L125.43,505.13L126.08,503.89L126.73,502.77L127.38,501.78L128.03,500.83L128.68,499.91L129.33,499.01L129.98,498.17L130.63,497.39L131.28,496.68L131.93,496.06L132.58,495.54L133.22,495.13L133.87,494.78L134.52,494.45L135.17,494.13L135.82,493.84L136.47,493.58L137.12,493.36L137.77,493.19L138.42,493.07L139.07,493.01L139.72,493.03L140.37,493.14L141.01,493.33L141.66,493.59L142.31,493.92L142.96,494.29L143.61,494.70L144.26,495.12L144.91,495.56L145.56,496.00L146.21,496.43L146.86,496.86L147.51,497.33L148.16,497.82L148.81,498.35L149.45,498.91L150.10,499.50L150.75,500.11L151.40,500.74L152.05,501.39L152.70,502.05L153.35,502.74L154.00,503.43L154.65,504.14L155.30,504.87L155.95,505.64L156.60,506.42L157.24,507.24L157.89,508.08L158.54,508.94L159.19,509.83L159.84,510.74L160.49,511.68L161.14,512.64L161.79,513.63L162.44,514.63L163.09,515.66L163.74,516.72L164.39,517.82L165.04,518.99L165.68,520.20L166.33,521.46L166.98,522.75L167.63,524.08L168.28,525.43L168.93,526.79L169.58,528.16L170.23,529.53L170.88,530.90L171.53,532.30L172.18,533.73L172.83,535.18L173.47,536.66L174.12,538.14L174.77,539.64L175.42,541.13L176.07,542.62L176.72,544.11L177.37,545.58L178.02,547.04L178.67,548.50L179.32,549.98L179.97,551.46L180.62,552.93L181.27,554.40L181.91,555.86L182.56,557.30L183.21,558.73L183.86,560.13L184.51,561.50L185.16,562.86L185.81,564.22L186.46,565.57L187.11,566.91L187.76,568.23L188.41,569.53L189.06,570.81L189.70,572.05L190.35,573.25L191.00,574.42L191.65,575.54L192.30,576.64L192.95,577.72L193.60,578.78L194.25,579.82L194.90,580.84L195.55,581.84L196.20,582.82L196.85,583.78L197.50,584.72L198.14,585.63L198.79,586.51L199.44,587.38L200.09,588.22L200.74,589.03L201.39,589.82L202.04,590.60L202.69,591.36L203.34,592.10L203.99,592.84L204.64,593.55L205.29,594.25L205.93,594.93L206.58,595.59L207.23,596.23L207.88,596.85L208.53,597.46L209.18,598.04L209.83,598.60L210.48,599.14L211.13,599.67L211.78,600.19L212.43,600.69L213.08,601.19L213.73,601.67L214.37,602.15L215.02,602.61L215.67,603.07L216.32,603.51L216.97,603.94L217.62,604.36L218.27,604.76L218.92,605.16L219.57,605.54L220.22,605.92L220.87,606.28L221.52,606.62L222.16,606.96L222.81,607.29L223.46,607.62L224.11,607.94L224.76,608.25L225.41,608.56L226.06,608.85L226.71,609.14L227.36,609.43L228.01,609.70L228.66,609.97L229.31,610.23L229.95,610.48L230.60,610.73L231.25,610.96L231.90,611.19L232.55,611.40L233.20,611.61L233.85,611.81L234.50,612.00L235.15,612.20L235.80,612.38L236.45,612.57L237.10,612.75L237.75,612.92L238.39,613.08L239.04,613.24L239.69,613.39L240.34,613.53L240.99,613.66L241.64,613.78L242.29,613.89L242.94,613.98L243.59,614.07L244.24,614.15L244.89,614.22L245.54,614.29L246.18,614.36L246.83,614.42L247.48,614.48L248.13,614.54L248.78,614.59L249.43,614.65L250.08,614.71L250.73,614.76L251.38,614.82L252.03,614.88L252.68,614.94L253.33,614.94L253.98,614.94L254.62,614.94L255.27,614.94L255.92,614.94L256.57,614.94L257.22,614.94L257.87,614.94L258.52,614.94L259.17,614.94L259.82,614.94L260.47,614.94L261.12,614.94L261.77,614.94L262.41,614.94L263.06,614.94L263.71,614.94L264.36,614.94L265.01,614.94L265.66,614.94L266.31,614.94" fill="none" stroke="#ff9cb0" stroke-width="0.8"/>
<path d="M72.20,602.95L72.85,603.81L73.50,604.44L74.15,604.76L74.80,605.01L75.45,605.21L76.10,605.33L76.74,605.36L77.39,605.17L78.04,604.74L78.69,604.16L79.34,603.57L79.99,602.97L80.64,602.28L81.29,601.52L81.94,600.69L82.59,599.80L83.24,598.86L83.89,597.84L84.53,596.73L85.18,595.53L85.83,594.26L86.48,592.93L87.13,591.55L87.78,590.13L88.43,588.69L89.08,587.23L89.73,585.77L90.38,584.27L91.03,582.71L91.68,581.12L92.33,579.48L92.97,577.81L93.62,576.11L94.27,574.39L94.92,572.65L95.57,570.90L96.22,569.15L96.87,567.38L97.52,565.58L98.17,563.76L98.82,561.92L99.47,560.06L100.12,558.18L100.76,556.29L101.41,554.38L102.06,552.46L102.71,550.53L103.36,548.56L104.01,546.56L104.66,544.54L105.31,542.50L105.96,540.45L106.61,538.40L107.26,536.37L107.91,534.35L108.56,532.37L109.20,530.43L109.85,528.48L110.50,526.53L111.15,524.58L111.80,522.64L112.45,520.73L113.10,518.86L113.75,517.03L114.40,515.27L115.05,513.58L115.70,511.97L116.35,510.44L116.99,508.98L117.64,507.57L118.29,506.20L118.94,504.85L119.59,503.52L120.24,502.18L120.89,500.82L121.54,499.43L122.19,497.98L122.84,496.46L123.49,494.88L124.14,493.29L124.78,491.72L125.43,490.21L126.08,488.81L126.73,487.53L127.38,486.41L128.03,485.34L128.68,484.29L129.33,483.28L129.98,482.32L130.63,481.43L131.28,480.62L131.93,479.92L132.58,479.33L133.22,478.87L133.87,478.47L134.52,478.09L135.17,477.74L135.82,477.41L136.47,477.11L137.12,476.86L137.77,476.67L138.42,476.53L139.07,476.46L139.72,476.48L140.37,476.59L141.01,476.78L141.66,477.04L142.31,477.36L142.96,477.74L143.61,478.15L144.26,478.59L144.91,479.05L145.56,479.52L146.21,479.98L146.86,480.42L147.51,480.88L148.16,481.37L148.81,481.90L149.45,482.46L150.10,483.04L150.75,483.65L151.40,484.29L152.05,484.94L152.70,485.62L153.35,486.31L154.00,487.02L154.65,487.75L155.30,488.48L155.95,489.23L156.60,490.01L157.24,490.81L157.89,491.64L158.54,492.50L159.19,493.38L159.84,494.29L160.49,495.21L161.14,496.17L161.79,497.15L162.44,498.15L163.09,499.17L163.74,500.22L164.39,501.28L165.04,502.37L165.68,503.49L166.33,504.66L166.98,505.89L167.63,507.16L168.28,508.48L168.93,509.84L169.58,511.22L170.23,512.64L170.88,514.06L171.53,515.51L172.18,516.95L172.83,518.40L173.47,519.85L174.12,521.33L174.77,522.84L175.42,524.37L176.07,525.92L176.72,527.49L177.37,529.06L178.02,530.64L178.67,532.21L179.32,533.78L179.97,535.33L180.62,536.88L181.27,538.42L181.91,539.97L182.56,541.52L183.21,543.08L183.86,544.64L184.51,546.18L185.16,547.72L185.81,549.24L186.46,550.75L187.11,552.23L187.76,553.69L188.41,555.12L189.06,556.56L189.70,557.98L190.35,559.40L191.00,560.81L191.65,562.19L192.30,563.56L192.95,564.90L193.60,566.21L194.25,567.48L194.90,568.71L195.55,569.90L196.20,571.06L196.85,572.20L197.50,573.33L198.14,574.43L198.79,575.52L199.44,576.59L200.09,577.63L200.74,578.66L201.39,579.66L202.04,580.65L202.69,581.61L203.34,582.54L203.99,583.46L204.64,584.34L205.29,585.20L205.93,586.04L206.58,586.87L207.23,587.68L207.88,588.47L208.53,589.25L209.18,590.02L209.83,590.77L210.48,591.50L211.13,592.21L211.78,592.91L212.43,593.58L213.08,594.24L213.73,594.88L214.37,595.50L215.02,596.10L215.67,596.67L216.32,597.24L216.97,597.79L217.62,598.33L218.27,598.86L218.92,599.38L219.57,599.89L220.22,600.39L220.87,600.87L221.52,601.35L222.16,601.82L222.81,602.27L223.46,602.72L224.11,603.15L224.76,603.57L225.41,603.98L226.06,604.38L226.71,604.77L227.36,605.14L228.01,605.51L228.66,605.86L229.31,606.21L229.95,606.55L230.60,606.89L231.25,607.22L231.90,607.54L232.55,607.86L233.20,608.16L233.85,608.47L234.50,608.76L235.15,609.05L235.80,609.33L236.45,609.60L237.10,609.86L237.75,610.11L238.39,610.36L239.04,610.60L239.69,610.82L240.34,611.04L240.99,611.25L241.64,611.46L242.29,611.66L242.94,611.86L243.59,612.06L244.24,612.25L244.89,612.44L245.54,612.61L246.18,612.79L246.83,612.95L247.48,613.11L248.13,613.25L248.78,613.39L249.43,613.52L250.08,613.63L250.73,613.73L251.38,613.83L252.03,613.92L252.68,614.00L253.33,614.07L253.98,614.15L254.62,614.21L255.27,614.28L255.92,614.34L256.57,614.40L257.22,614.46L257.87,614.52L258.52,614.58L259.17,614.64L259.82,614.70L260.47,614.76L261.12,614.82L261.77,614.86L262.41,614.86L263.06,614.86L263.71,614.86L264.36,614.86L265.01,614.86L265.66,614.86L266.31,614.86" fill="none" stroke="#8a8a8a" stroke-width="0.9"/>
<path d="M72.20,602.02L72.85,602.94L73.50,603.62L74.15,603.96L74.80,604.23L75.45,604.44L76.10,604.57L76.74,604.61L77.39,604.40L78.04,603.94L78.69,603.32L79.34,602.68L79.99,602.04L80.64,601.30L81.29,600.49L81.94,599.60L82.59,598.64L83.24,597.62L83.89,596.54L84.53,595.34L85.18,594.05L85.83,592.69L86.48,591.26L87.13,589.78L87.78,588.26L88.43,586.71L89.08,585.14L89.73,583.57L90.38,581.96L91.03,580.30L91.68,578.58L92.33,576.82L92.97,575.03L93.62,573.21L94.27,571.36L94.92,569.49L95.57,567.62L96.22,565.73L96.87,563.83L97.52,561.91L98.17,559.95L98.82,557.97L99.47,555.97L100.12,553.96L100.76,551.92L101.41,549.87L102.06,547.81L102.71,545.74L103.36,543.63L104.01,541.48L104.66,539.31L105.31,537.12L105.96,534.92L106.61,532.72L107.26,530.54L107.91,528.38L108.56,526.25L109.20,524.16L109.85,522.08L110.50,519.98L111.15,517.88L111.80,515.81L112.45,513.75L113.10,511.74L113.75,509.78L114.40,507.89L115.05,506.07L115.70,504.35L116.35,502.71L116.99,501.14L117.64,499.62L118.29,498.15L118.94,496.71L119.59,495.28L120.24,493.84L120.89,492.38L121.54,490.89L122.19,489.33L122.84,487.70L123.49,486.00L124.14,484.29L124.78,482.61L125.43,480.99L126.08,479.48L126.73,478.11L127.38,476.91L128.03,475.76L128.68,474.63L129.33,473.54L129.98,472.52L130.63,471.56L131.28,470.70L131.93,469.94L132.58,469.31L133.22,468.81L133.87,468.39L134.52,467.98L135.17,467.59L135.82,467.24L136.47,466.93L137.12,466.66L137.77,466.45L138.42,466.30L139.07,466.23L139.72,466.25L140.37,466.35L141.01,466.54L141.66,466.81L142.31,467.13L142.96,467.51L143.61,467.93L144.26,468.37L144.91,468.84L145.56,469.32L146.21,469.80L146.86,470.27L147.51,470.73L148.16,471.22L148.81,471.74L149.45,472.30L150.10,472.89L150.75,473.50L151.40,474.14L152.05,474.80L152.70,475.48L153.35,476.18L154.00,476.90L154.65,477.63L155.30,478.38L155.95,479.14L156.60,479.92L157.24,480.72L157.89,481.55L158.54,482.40L159.19,483.28L159.84,484.18L160.49,485.11L161.14,486.07L161.79,487.04L162.44,488.04L163.09,489.07L163.74,490.11L164.39,491.18L165.04,492.27L165.68,493.38L166.33,494.52L166.98,495.69L167.63,496.92L168.28,498.20L168.93,499.53L169.58,500.90L170.23,502.30L170.88,503.74L171.53,505.20L172.18,506.68L172.83,508.17L173.47,509.66L174.12,511.15L174.77,512.64L175.42,514.17L176.07,515.73L176.72,517.30L177.37,518.90L178.02,520.51L178.67,522.14L179.32,523.76L179.97,525.39L180.62,527.01L181.27,528.62L181.91,530.22L182.56,531.81L183.21,533.40L183.86,535.01L184.51,536.61L185.16,538.22L185.81,539.82L186.46,541.42L187.11,543.00L187.76,544.57L188.41,546.12L189.06,547.65L189.70,549.16L190.35,550.64L191.00,552.12L191.65,553.59L192.30,555.06L192.95,556.51L193.60,557.95L194.25,559.36L194.90,560.75L195.55,562.11L196.20,563.44L196.85,564.73L197.50,565.97L198.14,567.18L198.79,568.37L199.44,569.54L200.09,570.69L200.74,571.83L201.39,572.94L202.04,574.04L202.69,575.11L203.34,576.17L203.99,577.20L204.64,578.21L205.29,579.20L205.93,580.16L206.58,581.10L207.23,582.02L207.88,582.91L208.53,583.78L209.18,584.63L209.83,585.47L210.48,586.29L211.13,587.10L211.78,587.90L212.43,588.67L213.08,589.44L213.73,590.18L214.37,590.91L215.02,591.61L215.67,592.30L216.32,592.97L216.97,593.62L217.62,594.26L218.27,594.86L218.92,595.45L219.57,596.03L220.22,596.60L220.87,597.15L221.52,597.70L222.16,598.23L222.81,598.76L223.46,599.27L224.11,599.78L224.76,600.27L225.41,600.75L226.06,601.22L226.71,601.68L227.36,602.13L228.01,602.57L228.66,603.00L229.31,603.41L229.95,603.82L230.60,604.21L231.25,604.59L231.90,604.96L232.55,605.32L233.20,605.68L233.85,606.03L234.50,606.37L235.15,606.71L235.80,607.04L236.45,607.37L237.10,607.69L237.75,608.00L238.39,608.30L239.04,608.59L239.69,608.88L240.34,609.16L240.99,609.43L241.64,609.69L242.29,609.95L242.94,610.19L243.59,610.43L244.24,610.66L244.89,610.88L245.54,611.09L246.18,611.30L246.83,611.51L247.48,611.71L248.13,611.91L248.78,612.11L249.43,612.30L250.08,612.48L250.73,612.65L251.38,612.82L252.03,612.97L252.68,613.12L253.33,613.26L253.98,613.39L254.62,613.51L255.27,613.61L255.92,613.71L256.57,613.80L257.22,613.88L257.87,613.96L258.52,614.03L259.17,614.11L259.82,614.17L260.47,614.24L261.12,614.30L261.77,614.36L262.41,614.42L263.06,614.48L263.71,614.54L264.36,614.60L265.01,614.67L265.66,614.73L266.31,614.80" fill="none" stroke="#ff5a5a" stroke-width="1.05"/>
<path d="M72.20,601.86L72.85,602.79L73.50,603.48L74.15,603.82L74.80,604.10L75.45,604.31L76.10,604.45L76.74,604.48L77.39,604.27L78.04,603.80L78.69,603.18L79.34,602.53L79.99,601.88L80.64,601.14L81.29,600.31L81.94,599.41L82.59,598.44L83.24,597.41L83.89,596.31L84.53,595.10L85.18,593.80L85.83,592.43L86.48,590.98L87.13,589.48L87.78,587.94L88.43,586.37L89.08,584.79L89.73,583.20L90.38,581.57L91.03,579.88L91.68,578.15L92.33,576.37L92.97,574.56L93.62,572.71L94.27,570.84L94.92,568.95L95.57,567.06L96.22,565.15L96.87,563.23L97.52,561.28L98.17,559.30L98.82,557.30L99.47,555.28L100.12,553.24L100.76,551.18L101.41,549.11L102.06,547.02L102.71,544.92L103.36,542.79L104.01,540.62L104.66,538.42L105.31,536.20L105.96,533.98L106.61,531.76L107.26,529.55L107.91,527.36L108.56,525.21L109.20,523.10L109.85,520.98L110.50,518.86L111.15,516.74L111.80,514.64L112.45,512.57L113.10,510.53L113.75,508.55L114.40,506.64L115.05,504.80L115.70,503.05L116.35,501.39L116.99,499.80L117.64,498.27L118.29,496.78L118.94,495.32L119.59,493.87L120.24,492.42L120.89,490.94L121.54,489.43L122.19,487.86L122.84,486.21L123.49,484.49L124.14,482.76L124.78,481.06L125.43,479.42L126.08,477.89L126.73,476.51L127.38,475.29L128.03,474.13L128.68,472.99L129.33,471.89L129.98,470.85L130.63,469.88L131.28,469.01L131.93,468.24L132.58,467.60L133.22,467.10L133.87,466.67L134.52,466.26L135.17,465.87L135.82,465.51L136.47,465.19L137.12,464.92L137.77,464.71L138.42,464.56L139.07,464.49L139.72,464.51L140.37,464.61L141.01,464.80L141.66,465.07L142.31,465.40L142.96,465.78L143.61,466.20L144.26,466.66L144.91,467.13L145.56,467.62L146.21,468.10L146.86,468.57L147.51,469.04L148.16,469.54L148.81,470.07L149.45,470.63L150.10,471.22L150.75,471.84L151.40,472.49L152.05,473.16L152.70,473.85L153.35,474.56L154.00,475.28L154.65,476.03L155.30,476.78L155.95,477.55L156.60,478.33L157.24,479.15L157.89,479.98L158.54,480.85L159.19,481.74L159.84,482.65L160.49,483.59L161.14,484.55L161.79,485.54L162.44,486.55L163.09,487.59L163.74,488.65L164.39,489.73L165.04,490.83L165.68,491.96L166.33,493.11L166.98,494.29L167.63,495.53L168.28,496.83L168.93,498.17L169.58,499.56L170.23,500.98L170.88,502.44L171.53,503.91L172.18,505.41L172.83,506.91L173.47,508.42L174.12,509.93L174.77,511.44L175.42,512.99L176.07,514.56L176.72,516.16L177.37,517.77L178.02,519.40L178.67,521.05L179.32,522.69L179.97,524.34L180.62,525.98L181.27,527.61L181.91,529.22L182.56,530.83L183.21,532.45L183.86,534.07L184.51,535.69L185.16,537.32L185.81,538.94L186.46,540.55L187.11,542.16L187.76,543.75L188.41,545.31L189.06,546.86L189.70,548.38L190.35,549.88L191.00,551.38L191.65,552.87L192.30,554.35L192.95,555.82L193.60,557.27L194.25,558.70L194.90,560.11L195.55,561.49L196.20,562.83L196.85,564.13L197.50,565.40L198.14,566.62L198.79,567.82L199.44,569.00L200.09,570.17L200.74,571.32L201.39,572.44L202.04,573.55L202.69,574.64L203.34,575.71L203.99,576.75L204.64,577.78L205.29,578.78L205.93,579.75L206.58,580.70L207.23,581.63L207.88,582.53L208.53,583.41L209.18,584.27L209.83,585.12L210.48,585.95L211.13,586.77L211.78,587.57L212.43,588.36L213.08,589.13L213.73,589.88L214.37,590.62L215.02,591.33L215.67,592.03L216.32,592.71L216.97,593.37L217.62,594.01L218.27,594.62L218.92,595.22L219.57,595.80L220.22,596.38L220.87,596.94L221.52,597.49L222.16,598.03L222.81,598.56L223.46,599.08L224.11,599.59L224.76,600.09L225.41,600.58L226.06,601.06L226.71,601.52L227.36,601.98L228.01,602.42L228.66,602.85L229.31,603.27L229.95,603.68L230.60,604.08L231.25,604.46L231.90,604.84L232.55,605.20L233.20,605.56L233.85,605.92L234.50,606.27L235.15,606.61L235.80,606.94L236.45,607.27L237.10,607.59L237.75,607.91L238.39,608.21L239.04,608.51L239.69,608.80L240.34,609.08L240.99,609.36L241.64,609.62L242.29,609.88L242.94,610.13L243.59,610.37L244.24,610.60L244.89,610.82L245.54,611.04L246.18,611.25L246.83,611.46L247.48,611.67L248.13,611.87L248.78,612.07L249.43,612.26L250.08,612.44L250.73,612.62L251.38,612.78L252.03,612.94L252.68,613.09L253.33,613.23L253.98,613.36L254.62,613.48L255.27,613.59L255.92,613.69L256.57,613.78L257.22,613.86L257.87,613.94L258.52,614.02L259.17,614.09L259.82,614.16L260.47,614.22L261.12,614.28L261.77,614.35L262.41,614.41L263.06,614.47L263.71,614.53L264.36,614.59L265.01,614.66L265.66,614.72L266.31,614.79" fill="none" stroke="#ff0000" stroke-width="1.05"/>
<path d="M72.20,601.74L72.85,602.68L73.50,603.38L74.15,603.72L74.80,604.00L75.45,604.21L76.10,604.35L76.74,604.38L77.39,604.17L78.04,603.70L78.69,603.07L79.34,602.42L79.99,601.76L80.64,601.01L81.29,600.18L81.94,599.27L82.59,598.29L83.24,597.26L83.89,596.15L84.53,594.93L85.18,593.61L85.83,592.23L86.48,590.77L87.13,589.25L87.78,587.70L88.43,586.12L89.08,584.52L89.73,582.92L90.38,581.27L91.03,579.57L91.68,577.83L92.33,576.03L92.97,574.20L93.62,572.34L94.27,570.45L94.92,568.55L95.57,566.64L96.22,564.72L96.87,562.78L97.52,560.81L98.17,558.81L98.82,556.80L99.47,554.76L100.12,552.70L100.76,550.62L101.41,548.53L102.06,546.43L102.71,544.31L103.36,542.16L104.01,539.97L104.66,537.75L105.31,535.52L105.96,533.27L106.61,531.03L107.26,528.80L107.91,526.60L108.56,524.43L109.20,522.30L109.85,520.17L110.50,518.03L111.15,515.89L111.80,513.77L112.45,511.68L113.10,509.62L113.75,507.63L114.40,505.69L115.05,503.84L115.70,502.08L116.35,500.40L116.99,498.80L117.64,497.26L118.29,495.76L118.94,494.28L119.59,492.82L120.24,491.35L120.89,489.86L121.54,488.34L122.19,486.76L122.84,485.09L123.49,483.36L124.14,481.61L124.78,479.89L125.43,478.24L126.08,476.70L126.73,475.31L127.38,474.08L128.03,472.90L128.68,471.75L129.33,470.64L129.98,469.60L130.63,468.62L131.28,467.74L131.93,466.97L132.58,466.32L133.22,465.81L133.87,465.38L134.52,464.97L135.17,464.57L135.82,464.21L136.47,463.89L137.12,463.62L137.77,463.40L138.42,463.26L139.07,463.18L139.72,463.20L140.37,463.31L141.01,463.50L141.66,463.77L142.31,464.10L142.96,464.48L143.61,464.91L144.26,465.37L144.91,465.85L145.56,466.34L146.21,466.83L146.86,467.30L147.51,467.77L148.16,468.27L148.81,468.81L149.45,469.38L150.10,469.97L150.75,470.60L151.40,471.25L152.05,471.92L152.70,472.62L153.35,473.34L154.00,474.07L154.65,474.82L155.30,475.58L155.95,476.36L156.60,477.15L157.24,477.97L157.89,478.81L158.54,479.68L159.19,480.58L159.84,481.50L160.49,482.45L161.14,483.42L161.79,484.42L162.44,485.44L163.09,486.48L163.74,487.55L164.39,488.64L165.04,489.75L165.68,490.89L166.33,492.05L166.98,493.24L167.63,494.49L168.28,495.80L168.93,497.16L169.58,498.56L170.23,499.99L170.88,501.46L171.53,502.95L172.18,504.45L172.83,505.97L173.47,507.50L174.12,509.02L174.77,510.54L175.42,512.10L176.07,513.69L176.72,515.30L177.37,516.93L178.02,518.57L178.67,520.23L179.32,521.89L179.97,523.55L180.62,525.20L181.27,526.85L181.91,528.48L182.56,530.10L183.21,531.73L183.86,533.36L184.51,535.00L185.16,536.64L185.81,538.28L186.46,539.91L187.11,541.52L187.76,543.12L188.41,544.71L189.06,546.27L189.70,547.80L190.35,549.31L191.00,550.82L191.65,552.32L192.30,553.82L192.95,555.30L193.60,556.77L194.25,558.21L194.90,559.63L195.55,561.02L196.20,562.37L196.85,563.69L197.50,564.96L198.14,566.19L198.79,567.40L199.44,568.60L200.09,569.77L200.74,570.93L201.39,572.07L202.04,573.19L202.69,574.29L203.34,575.36L203.99,576.42L204.64,577.45L205.29,578.46L205.93,579.44L206.58,580.40L207.23,581.34L207.88,582.24L208.53,583.13L209.18,584.00L209.83,584.85L210.48,585.70L211.13,586.52L211.78,587.33L212.43,588.12L213.08,588.90L213.73,589.66L214.37,590.40L215.02,591.12L215.67,591.83L216.32,592.51L216.97,593.18L217.62,593.82L218.27,594.44L218.92,595.04L219.57,595.63L220.22,596.21L220.87,596.78L221.52,597.33L222.16,597.88L222.81,598.42L223.46,598.94L224.11,599.45L224.76,599.96L225.41,600.45L226.06,600.93L226.71,601.40L227.36,601.86L228.01,602.31L228.66,602.74L229.31,603.16L229.95,603.58L230.60,603.98L231.25,604.37L231.90,604.74L232.55,605.11L233.20,605.48L233.85,605.84L234.50,606.19L235.15,606.53L235.80,606.87L236.45,607.20L237.10,607.52L237.75,607.84L238.39,608.15L239.04,608.45L239.69,608.74L240.34,609.03L240.99,609.31L241.64,609.57L242.29,609.83L242.94,610.08L243.59,610.32L244.24,610.56L244.89,610.78L245.54,611.00L246.18,611.21L246.83,611.43L247.48,611.63L248.13,611.84L248.78,612.04L249.43,612.23L250.08,612.41L250.73,612.59L251.38,612.76L252.03,612.92L252.68,613.07L253.33,613.21L253.98,613.34L254.62,613.46L255.27,613.57L255.92,613.67L256.57,613.76L257.22,613.85L257.87,613.93L258.52,614.00L259.17,614.07L259.82,614.14L260.47,614.21L261.12,614.27L261.77,614.34L262.41,614.40L263.06,614.46L263.71,614.52L264.36,614.58L265.01,614.65L265.66,614.72L266.31,614.78" fill="none" stroke="#ff2a96" stroke-width="1.05"/>
<path d="M72.20,601.60L72.85,602.55L73.50,603.25L74.15,603.60L74.80,603.88L75.45,604.10L76.10,604.24L76.74,604.27L77.39,604.06L78.04,603.58L78.69,602.95L79.34,602.29L79.99,601.63L80.64,600.87L81.29,600.02L81.94,599.11L82.59,598.12L83.24,597.07L83.89,595.95L84.53,594.72L85.18,593.39L85.83,591.99L86.48,590.52L87.13,588.99L87.78,587.42L88.43,585.82L89.08,584.21L89.73,582.59L90.38,580.93L91.03,579.21L91.68,577.45L92.33,575.64L92.97,573.79L93.62,571.91L94.27,570.00L94.92,568.08L95.57,566.15L96.22,564.21L96.87,562.25L97.52,560.26L98.17,558.25L98.82,556.21L99.47,554.15L100.12,552.07L100.76,549.97L101.41,547.86L102.06,545.74L102.71,543.60L103.36,541.43L104.01,539.22L104.66,536.97L105.31,534.72L105.96,532.45L106.61,530.19L107.26,527.94L107.91,525.71L108.56,523.52L109.20,521.36L109.85,519.21L110.50,517.05L111.15,514.89L111.80,512.75L112.45,510.64L113.10,508.56L113.75,506.55L114.40,504.60L115.05,502.72L115.70,500.94L116.35,499.25L116.99,497.63L117.64,496.07L118.29,494.56L118.94,493.07L119.59,491.59L120.24,490.11L120.89,488.61L121.54,487.07L122.19,485.47L122.84,483.78L123.49,482.03L124.14,480.27L124.78,478.54L125.43,476.87L126.08,475.31L126.73,473.91L127.38,472.67L128.03,471.48L128.68,470.31L129.33,469.19L129.98,468.14L130.63,467.15L131.28,466.26L131.93,465.48L132.58,464.83L133.22,464.32L133.87,463.88L134.52,463.46L135.17,463.06L135.82,462.70L136.47,462.37L137.12,462.10L137.77,461.88L138.42,461.73L139.07,461.66L139.72,461.68L140.37,461.78L141.01,461.98L141.66,462.25L142.31,462.59L142.96,462.97L143.61,463.41L144.26,463.87L144.91,464.35L145.56,464.85L146.21,465.34L146.86,465.82L147.51,466.29L148.16,466.80L148.81,467.34L149.45,467.91L150.10,468.52L150.75,469.15L151.40,469.81L152.05,470.49L152.70,471.19L153.35,471.91L154.00,472.65L154.65,473.41L155.30,474.18L155.95,474.96L156.60,475.76L157.24,476.59L157.89,477.44L158.54,478.32L159.19,479.23L159.84,480.16L160.49,481.12L161.14,482.10L161.79,483.11L162.44,484.14L163.09,485.19L163.74,486.27L164.39,487.37L165.04,488.50L165.68,489.64L166.33,490.81L166.98,492.02L167.63,493.28L168.28,494.60L168.93,495.97L169.58,497.39L170.23,498.84L170.88,500.32L171.53,501.82L172.18,503.34L172.83,504.88L173.47,506.41L174.12,507.95L174.77,509.49L175.42,511.07L176.07,512.67L176.72,514.30L177.37,515.94L178.02,517.60L178.67,519.27L179.32,520.95L179.97,522.63L180.62,524.30L181.27,525.96L181.91,527.61L182.56,529.24L183.21,530.89L183.86,532.54L184.51,534.20L185.16,535.85L185.81,537.50L186.46,539.15L187.11,540.78L187.76,542.40L188.41,544.00L189.06,545.57L189.70,547.12L190.35,548.65L191.00,550.17L191.65,551.69L192.30,553.20L192.95,554.70L193.60,556.18L194.25,557.64L194.90,559.07L195.55,560.47L196.20,561.84L196.85,563.17L197.50,564.46L198.14,565.70L198.79,566.92L199.44,568.13L200.09,569.32L200.74,570.49L201.39,571.64L202.04,572.76L202.69,573.87L203.34,574.96L203.99,576.03L204.64,577.07L205.29,578.09L205.93,579.08L206.58,580.05L207.23,580.99L207.88,581.91L208.53,582.80L209.18,583.68L209.83,584.55L210.48,585.40L211.13,586.23L211.78,587.05L212.43,587.85L213.08,588.63L213.73,589.40L214.37,590.15L215.02,590.88L215.67,591.59L216.32,592.28L216.97,592.95L217.62,593.60L218.27,594.23L218.92,594.84L219.57,595.43L220.22,596.02L220.87,596.59L221.52,597.15L222.16,597.70L222.81,598.24L223.46,598.77L224.11,599.29L224.76,599.80L225.41,600.30L226.06,600.78L226.71,601.26L227.36,601.72L228.01,602.17L228.66,602.61L229.31,603.04L229.95,603.46L230.60,603.86L231.25,604.25L231.90,604.63L232.55,605.01L233.20,605.38L233.85,605.74L234.50,606.09L235.15,606.44L235.80,606.78L236.45,607.12L237.10,607.44L237.75,607.76L238.39,608.07L239.04,608.38L239.69,608.67L240.34,608.96L240.99,609.24L241.64,609.51L242.29,609.77L242.94,610.03L243.59,610.27L244.24,610.51L244.89,610.73L245.54,610.95L246.18,611.17L246.83,611.38L247.48,611.60L248.13,611.80L248.78,612.00L249.43,612.19L250.08,612.38L250.73,612.56L251.38,612.73L252.03,612.89L252.68,613.05L253.33,613.19L253.98,613.32L254.62,613.44L255.27,613.55L255.92,613.65L256.57,613.74L257.22,613.83L257.87,613.91L258.52,613.99L259.17,614.06L259.82,614.13L260.47,614.20L261.12,614.26L261.77,614.32L262.41,614.39L263.06,614.45L263.71,614.51L264.36,614.57L265.01,614.64L265.66,614.71L266.31,614.78" fill="none" stroke="#c8003c" stroke-width="1.05"/>
<path d="M72.20,601.49L72.85,602.44L73.50,603.15L74.15,603.50L74.80,603.78L75.45,604.00L76.10,604.14L76.74,604.17L77.39,603.96L78.04,603.48L78.69,602.84L79.34,602.18L79.99,601.51L80.64,600.74L81.29,599.89L81.94,598.97L82.59,597.97L83.24,596.92L83.89,595.79L84.53,594.54L85.18,593.21L85.83,591.79L86.48,590.30L87.13,588.76L87.78,587.18L88.43,585.57L89.08,583.94L89.73,582.31L90.38,580.64L91.03,578.91L91.68,577.13L92.33,575.30L92.97,573.43L93.62,571.54L94.27,569.62L94.92,567.68L95.57,565.73L96.22,563.77L96.87,561.80L97.52,559.79L98.17,557.76L98.82,555.70L99.47,553.63L100.12,551.53L100.76,549.42L101.41,547.29L102.06,545.15L102.71,542.99L103.36,540.80L104.01,538.57L104.66,536.31L105.31,534.03L105.96,531.74L106.61,529.46L107.26,527.19L107.91,524.95L108.56,522.74L109.20,520.56L109.85,518.39L110.50,516.21L111.15,514.04L111.80,511.88L112.45,509.75L113.10,507.66L113.75,505.62L114.40,503.65L115.05,501.76L115.70,499.97L116.35,498.26L116.99,496.63L117.64,495.06L118.29,493.53L118.94,492.03L119.59,490.54L120.24,489.04L120.89,487.53L121.54,485.98L122.19,484.36L122.84,482.66L123.49,480.90L124.14,479.13L124.78,477.37L125.43,475.69L126.08,474.12L126.73,472.70L127.38,471.45L128.03,470.25L128.68,469.08L129.33,467.95L129.98,466.88L130.63,465.89L131.28,464.99L131.93,464.21L132.58,463.55L133.22,463.03L133.87,462.59L134.52,462.17L135.17,461.77L135.82,461.40L136.47,461.07L137.12,460.80L137.77,460.58L138.42,460.43L139.07,460.35L139.72,460.37L140.37,460.48L141.01,460.67L141.66,460.95L142.31,461.29L142.96,461.68L143.61,462.11L144.26,462.58L144.91,463.07L145.56,463.57L146.21,464.06L146.86,464.55L147.51,465.03L148.16,465.54L148.81,466.08L149.45,466.66L150.10,467.27L150.75,467.90L151.40,468.57L152.05,469.26L152.70,469.96L153.35,470.69L154.00,471.44L154.65,472.20L155.30,472.98L155.95,473.77L156.60,474.58L157.24,475.41L157.89,476.27L158.54,477.16L159.19,478.07L159.84,479.01L160.49,479.98L161.14,480.97L161.79,481.98L162.44,483.02L163.09,484.09L163.74,485.17L164.39,486.28L165.04,487.42L165.68,488.57L166.33,489.75L166.98,490.97L167.63,492.25L168.28,493.58L168.93,494.96L169.58,496.38L170.23,497.85L170.88,499.34L171.53,500.86L172.18,502.39L172.83,503.94L173.47,505.49L174.12,507.04L174.77,508.59L175.42,510.18L176.07,511.79L176.72,513.44L177.37,515.10L178.02,516.77L178.67,518.46L179.32,520.15L179.97,521.84L180.62,523.52L181.27,525.20L181.91,526.86L182.56,528.51L183.21,530.17L183.86,531.84L184.51,533.51L185.16,535.18L185.81,536.84L186.46,538.50L187.11,540.15L187.76,541.78L188.41,543.39L189.06,544.98L189.70,546.54L190.35,548.08L191.00,549.62L191.65,551.15L192.30,552.67L192.95,554.18L193.60,555.68L194.25,557.15L194.90,558.59L195.55,560.01L196.20,561.38L196.85,562.72L197.50,564.02L198.14,565.28L198.79,566.51L199.44,567.73L200.09,568.92L200.74,570.10L201.39,571.26L202.04,572.40L202.69,573.52L203.34,574.62L203.99,575.69L204.64,576.74L205.29,577.77L205.93,578.77L206.58,579.75L207.23,580.70L207.88,581.62L208.53,582.53L209.18,583.41L209.83,584.28L210.48,585.14L211.13,585.98L211.78,586.81L212.43,587.61L213.08,588.41L213.73,589.18L214.37,589.93L215.02,590.67L215.67,591.39L216.32,592.08L216.97,592.76L217.62,593.41L218.27,594.05L218.92,594.66L219.57,595.26L220.22,595.85L220.87,596.43L221.52,596.99L222.16,597.55L222.81,598.10L223.46,598.63L224.11,599.15L224.76,599.67L225.41,600.17L226.06,600.66L226.71,601.14L227.36,601.60L228.01,602.06L228.66,602.50L229.31,602.93L229.95,603.35L230.60,603.76L231.25,604.16L231.90,604.54L232.55,604.92L233.20,605.29L233.85,605.65L234.50,606.01L235.15,606.36L235.80,606.71L236.45,607.04L237.10,607.37L237.75,607.70L238.39,608.01L239.04,608.32L239.69,608.62L240.34,608.91L240.99,609.19L241.64,609.46L242.29,609.73L242.94,609.98L243.59,610.23L244.24,610.46L244.89,610.69L245.54,610.91L246.18,611.13L246.83,611.35L247.48,611.56L248.13,611.77L248.78,611.97L249.43,612.17L250.08,612.35L250.73,612.54L251.38,612.71L252.03,612.87L252.68,613.03L253.33,613.17L253.98,613.30L254.62,613.42L255.27,613.53L255.92,613.63L256.57,613.73L257.22,613.81L257.87,613.90L258.52,613.97L259.17,614.05L259.82,614.12L260.47,614.18L261.12,614.25L261.77,614.31L262.41,614.37L263.06,614.44L263.71,614.50L264.36,614.56L265.01,614.63L265.66,614.70L266.31,614.77" fill="none" stroke="#800080" stroke-width="1.05"/>
<path d="M72.20,601.37L72.85,602.33L73.50,603.04L74.15,603.40L74.80,603.69L75.45,603.90L76.10,604.04L76.74,604.08L77.39,603.86L78.04,603.38L78.69,602.73L79.34,602.06L79.99,601.39L80.64,600.62L81.29,599.76L81.94,598.83L82.59,597.82L83.24,596.76L83.89,595.62L84.53,594.36L85.18,593.02L85.83,591.59L86.48,590.09L87.13,588.54L87.78,586.94L88.43,585.32L89.08,583.68L89.73,582.03L90.38,580.34L91.03,578.60L91.68,576.80L92.33,574.96L92.97,573.08L93.62,571.17L94.27,569.23L94.92,567.27L95.57,565.31L96.22,563.34L96.87,561.34L97.52,559.32L98.17,557.27L98.82,555.20L99.47,553.11L100.12,550.99L100.76,548.86L101.41,546.71L102.06,544.55L102.71,542.38L103.36,540.17L104.01,537.92L104.66,535.64L105.31,533.34L105.96,531.04L106.61,528.74L107.26,526.45L107.91,524.18L108.56,521.95L109.20,519.77L109.85,517.58L110.50,515.38L111.15,513.18L111.80,511.00L112.45,508.86L113.10,506.75L113.75,504.69L114.40,502.71L115.05,500.81L115.70,499.00L116.35,497.28L116.99,495.63L117.64,494.05L118.29,492.50L118.94,490.99L119.59,489.49L120.24,487.98L120.89,486.45L121.54,484.89L122.19,483.26L122.84,481.54L123.49,479.77L124.14,477.98L124.78,476.21L125.43,474.51L126.08,472.93L126.73,471.50L127.38,470.24L128.03,469.03L128.68,467.85L129.33,466.71L129.98,465.63L130.63,464.63L131.28,463.73L131.93,462.94L132.58,462.27L133.22,461.75L133.87,461.31L134.52,460.88L135.17,460.48L135.82,460.10L136.47,459.77L137.12,459.49L137.77,459.27L138.42,459.12L139.07,459.05L139.72,459.06L140.37,459.17L141.01,459.37L141.66,459.65L142.31,459.99L142.96,460.38L143.61,460.82L144.26,461.29L144.91,461.78L145.56,462.29L146.21,462.79L146.86,463.28L147.51,463.76L148.16,464.27L148.81,464.82L149.45,465.41L150.10,466.02L150.75,466.66L151.40,467.33L152.05,468.02L152.70,468.74L153.35,469.48L154.00,470.23L154.65,471.00L155.30,471.78L155.95,472.58L156.60,473.39L157.24,474.23L157.89,475.10L158.54,475.99L159.19,476.91L159.84,477.86L160.49,478.83L161.14,479.83L161.79,480.86L162.44,481.90L163.09,482.98L163.74,484.08L164.39,485.19L165.04,486.34L165.68,487.51L166.33,488.69L166.98,489.92L167.63,491.21L168.28,492.55L168.93,493.94L169.58,495.38L170.23,496.85L170.88,498.36L171.53,499.89L172.18,501.44L172.83,503.00L173.47,504.56L174.12,506.12L174.77,507.69L175.42,509.29L176.07,510.92L176.72,512.58L177.37,514.25L178.02,515.94L178.67,517.64L179.32,519.34L179.97,521.05L180.62,522.75L181.27,524.44L181.91,526.11L182.56,527.78L183.21,529.45L183.86,531.13L184.51,532.81L185.16,534.50L185.81,536.18L186.46,537.85L187.11,539.51L187.76,541.16L188.41,542.78L189.06,544.38L189.70,545.96L190.35,547.51L191.00,549.06L191.65,550.61L192.30,552.14L192.95,553.67L193.60,555.17L194.25,556.65L194.90,558.11L195.55,559.54L196.20,560.93L196.85,562.28L197.50,563.59L198.14,564.85L198.79,566.10L199.44,567.32L200.09,568.53L200.74,569.72L201.39,570.89L202.04,572.04L202.69,573.16L203.34,574.27L203.99,575.35L204.64,576.41L205.29,577.45L205.93,578.46L206.58,579.45L207.23,580.41L207.88,581.34L208.53,582.25L209.18,583.14L209.83,584.02L210.48,584.88L211.13,585.73L211.78,586.56L212.43,587.38L213.08,588.18L213.73,588.96L214.37,589.72L215.02,590.46L215.67,591.18L216.32,591.89L216.97,592.57L217.62,593.23L218.27,593.87L218.92,594.48L219.57,595.09L220.22,595.68L220.87,596.27L221.52,596.84L222.16,597.40L222.81,597.95L223.46,598.49L224.11,599.02L224.76,599.53L225.41,600.04L226.06,600.53L226.71,601.01L227.36,601.49L228.01,601.94L228.66,602.39L229.31,602.83L229.95,603.25L230.60,603.66L231.25,604.06L231.90,604.45L232.55,604.83L233.20,605.20L233.85,605.57L234.50,605.93L235.15,606.29L235.80,606.63L236.45,606.97L237.10,607.31L237.75,607.63L238.39,607.95L239.04,608.26L239.69,608.56L240.34,608.85L240.99,609.13L241.64,609.41L242.29,609.68L242.94,609.93L243.59,610.18L244.24,610.42L244.89,610.65L245.54,610.87L246.18,611.10L246.83,611.31L247.48,611.53L248.13,611.74L248.78,611.94L249.43,612.14L250.08,612.33L250.73,612.51L251.38,612.68L252.03,612.85L252.68,613.00L253.33,613.15L253.98,613.28L254.62,613.41L255.27,613.52L255.92,613.62L256.57,613.71L257.22,613.80L257.87,613.88L258.52,613.96L259.17,614.03L259.82,614.10L260.47,614.17L261.12,614.24L261.77,614.30L262.41,614.36L263.06,614.43L263.71,614.49L264.36,614.56L265.01,614.62L265.66,614.69L266.31,614.76" fill="none" stroke="#000000" stroke-width="1.05"/>
<path d="M72.20,601.27L72.85,602.24L73.50,602.96L74.15,603.31L74.80,603.60L75.45,603.82L76.10,603.96L76.74,604.00L77.39,603.78L78.04,603.29L78.69,602.64L79.34,601.97L79.99,601.29L80.64,600.51L81.29,599.65L81.94,598.71L82.59,597.70L83.24,596.63L83.89,595.48L84.53,594.22L85.18,592.86L85.83,591.42L86.48,589.91L87.13,588.35L87.78,586.74L88.43,585.11L89.08,583.45L89.73,581.80L90.38,580.10L91.03,578.34L91.68,576.53L92.33,574.68L92.97,572.78L93.62,570.86L94.27,568.91L94.92,566.94L95.57,564.96L96.22,562.97L96.87,560.97L97.52,558.93L98.17,556.87L98.82,554.78L99.47,552.67L100.12,550.54L100.76,548.40L101.41,546.23L102.06,544.06L102.71,541.87L103.36,539.64L104.01,537.38L104.66,535.08L105.31,532.77L105.96,530.45L106.61,528.13L107.26,525.83L107.91,523.55L108.56,521.30L109.20,519.10L109.85,516.89L110.50,514.68L111.15,512.47L111.80,510.28L112.45,508.11L113.10,505.99L113.75,503.92L114.40,501.93L115.05,500.01L115.70,498.18L116.35,496.45L116.99,494.80L117.64,493.20L118.29,491.65L118.94,490.12L119.59,488.61L120.24,487.09L120.89,485.55L121.54,483.98L122.19,482.34L122.84,480.61L123.49,478.82L124.14,477.02L124.78,475.24L125.43,473.53L126.08,471.94L126.73,470.50L127.38,469.23L128.03,468.01L128.68,466.82L129.33,465.67L129.98,464.59L130.63,463.58L131.28,462.67L131.93,461.87L132.58,461.20L133.22,460.68L133.87,460.23L134.52,459.80L135.17,459.40L135.82,459.02L136.47,458.69L137.12,458.41L137.77,458.19L138.42,458.03L139.07,457.96L139.72,457.97L140.37,458.09L141.01,458.28L141.66,458.56L142.31,458.91L142.96,459.30L143.61,459.75L144.26,460.22L144.91,460.71L145.56,461.22L146.21,461.72L146.86,462.22L147.51,462.70L148.16,463.22L148.81,463.77L149.45,464.36L150.10,464.98L150.75,465.63L151.40,466.30L152.05,467.00L152.70,467.72L153.35,468.46L154.00,469.22L154.65,469.99L155.30,470.78L155.95,471.58L156.60,472.40L157.24,473.25L157.89,474.12L158.54,475.02L159.19,475.95L159.84,476.90L160.49,477.88L161.14,478.89L161.79,479.92L162.44,480.98L163.09,482.06L163.74,483.16L164.39,484.29L165.04,485.44L165.68,486.61L166.33,487.81L166.98,489.05L167.63,490.34L168.28,491.69L168.93,493.10L169.58,494.55L170.23,496.03L170.88,497.55L171.53,499.09L172.18,500.64L172.83,502.21L173.47,503.79L174.12,505.36L174.77,506.94L175.42,508.55L176.07,510.19L176.72,511.86L177.37,513.55L178.02,515.25L178.67,516.96L179.32,518.67L179.97,520.39L180.62,522.10L181.27,523.80L181.91,525.49L182.56,527.17L183.21,528.85L183.86,530.54L184.51,532.24L185.16,533.93L185.81,535.63L186.46,537.31L187.11,538.98L187.76,540.64L188.41,542.28L189.06,543.89L189.70,545.48L190.35,547.04L191.00,548.60L191.65,550.16L192.30,551.70L192.95,553.24L193.60,554.75L194.25,556.25L194.90,557.71L195.55,559.15L196.20,560.55L196.85,561.91L197.50,563.23L198.14,564.50L198.79,565.75L199.44,566.99L200.09,568.20L200.74,569.40L201.39,570.58L202.04,571.73L202.69,572.87L203.34,573.98L203.99,575.07L204.64,576.14L205.29,577.18L205.93,578.20L206.58,579.19L207.23,580.16L207.88,581.10L208.53,582.02L209.18,582.92L209.83,583.80L210.48,584.67L211.13,585.52L211.78,586.36L212.43,587.18L213.08,587.99L213.73,588.77L214.37,589.54L215.02,590.29L215.67,591.01L216.32,591.72L216.97,592.41L217.62,593.07L218.27,593.72L218.92,594.34L219.57,594.95L220.22,595.54L220.87,596.13L221.52,596.71L222.16,597.27L222.81,597.83L223.46,598.37L224.11,598.90L224.76,599.42L225.41,599.93L226.06,600.43L226.71,600.91L227.36,601.39L228.01,601.85L228.66,602.30L229.31,602.74L229.95,603.16L230.60,603.58L231.25,603.98L231.90,604.37L232.55,604.75L233.20,605.13L233.85,605.50L234.50,605.86L235.15,606.22L235.80,606.57L236.45,606.91L237.10,607.25L237.75,607.57L238.39,607.89L239.04,608.21L239.69,608.51L240.34,608.80L240.99,609.09L241.64,609.37L242.29,609.63L242.94,609.89L243.59,610.14L244.24,610.38L244.89,610.61L245.54,610.84L246.18,611.06L246.83,611.28L247.48,611.50L248.13,611.71L248.78,611.91L249.43,612.11L250.08,612.30L250.73,612.49L251.38,612.66L252.03,612.83L252.68,612.99L253.33,613.13L253.98,613.27L254.62,613.39L255.27,613.50L255.92,613.60L256.57,613.70L257.22,613.79L257.87,613.87L258.52,613.95L259.17,614.02L259.82,614.09L260.47,614.16L261.12,614.23L261.77,614.29L262.41,614.36L263.06,614.42L263.71,614.48L264.36,614.55L265.01,614.62L265.66,614.68L266.31,614.76" fill="none" stroke="#000080" stroke-width="1.05"/>
<path d="M72.20,601.17L72.85,602.15L73.50,602.87L74.15,603.23L74.80,603.52L75.45,603.74L76.10,603.88L76.74,603.92L77.39,603.70L78.04,603.21L78.69,602.55L79.34,601.88L79.99,601.19L80.64,600.41L81.29,599.54L81.94,598.59L82.59,597.57L83.24,596.50L83.89,595.34L84.53,594.07L85.18,592.70L85.83,591.26L86.48,589.74L87.13,588.16L87.78,586.54L88.43,584.90L89.08,583.23L89.73,581.56L90.38,579.85L91.03,578.08L91.68,576.26L92.33,574.39L92.97,572.49L93.62,570.55L94.27,568.58L94.92,566.60L95.57,564.61L96.22,562.61L96.87,560.59L97.52,558.54L98.17,556.46L98.82,554.36L99.47,552.24L100.12,550.09L100.76,547.93L101.41,545.75L102.06,543.56L102.71,541.36L103.36,539.12L104.01,536.84L104.66,534.53L105.31,532.20L105.96,529.86L106.61,527.53L107.26,525.21L107.91,522.91L108.56,520.65L109.20,518.43L109.85,516.21L110.50,513.98L111.15,511.76L111.80,509.55L112.45,507.37L113.10,505.23L113.75,503.15L114.40,501.14L115.05,499.21L115.70,497.37L116.35,495.63L116.99,493.96L117.64,492.35L118.29,490.79L118.94,489.26L119.59,487.73L120.24,486.20L120.89,484.66L121.54,483.07L122.19,481.42L122.84,479.68L123.49,477.88L124.14,476.06L124.78,474.27L125.43,472.55L126.08,470.95L126.73,469.50L127.38,468.22L128.03,466.99L128.68,465.79L129.33,464.64L129.98,463.55L130.63,462.53L131.28,461.61L131.93,460.81L132.58,460.14L133.22,459.61L133.87,459.16L134.52,458.73L135.17,458.32L135.82,457.94L136.47,457.61L137.12,457.32L137.77,457.10L138.42,456.94L139.07,456.87L139.72,456.89L140.37,457.00L141.01,457.20L141.66,457.48L142.31,457.82L142.96,458.22L143.61,458.67L144.26,459.15L144.91,459.65L145.56,460.15L146.21,460.66L146.86,461.16L147.51,461.65L148.16,462.17L148.81,462.73L149.45,463.32L150.10,463.94L150.75,464.59L151.40,465.27L152.05,465.97L152.70,466.70L153.35,467.44L154.00,468.21L154.65,468.99L155.30,469.78L155.95,470.59L156.60,471.41L157.24,472.27L157.89,473.14L158.54,474.05L159.19,474.99L159.84,475.95L160.49,476.93L161.14,477.95L161.79,478.98L162.44,480.05L163.09,481.13L163.74,482.25L164.39,483.38L165.04,484.54L165.68,485.72L166.33,486.93L166.98,488.17L167.63,489.48L168.28,490.84L168.93,492.25L169.58,493.71L170.23,495.20L170.88,496.73L171.53,498.28L172.18,499.85L172.83,501.43L173.47,503.02L174.12,504.60L174.77,506.19L175.42,507.81L176.07,509.46L176.72,511.14L177.37,512.84L178.02,514.55L178.67,516.28L179.32,518.01L179.97,519.73L180.62,521.46L181.27,523.17L181.91,524.87L182.56,526.56L183.21,528.25L183.86,529.96L184.51,531.66L185.16,533.37L185.81,535.07L186.46,536.77L187.11,538.45L187.76,540.12L188.41,541.77L189.06,543.39L189.70,544.99L190.35,546.57L191.00,548.14L191.65,549.70L192.30,551.26L192.95,552.80L193.60,554.33L194.25,555.84L194.90,557.31L195.55,558.76L196.20,560.17L196.85,561.54L197.50,562.86L198.14,564.15L198.79,565.41L199.44,566.65L200.09,567.88L200.74,569.08L201.39,570.27L202.04,571.43L202.69,572.57L203.34,573.70L203.99,574.79L204.64,575.87L205.29,576.92L205.93,577.94L206.58,578.94L207.23,579.92L207.88,580.86L208.53,581.78L209.18,582.69L209.83,583.58L210.48,584.46L211.13,585.32L211.78,586.16L212.43,586.99L213.08,587.80L213.73,588.59L214.37,589.36L215.02,590.11L215.67,590.84L216.32,591.56L216.97,592.25L217.62,592.92L218.27,593.56L218.92,594.19L219.57,594.80L220.22,595.41L220.87,596.00L221.52,596.58L222.16,597.15L222.81,597.70L223.46,598.25L224.11,598.79L224.76,599.31L225.41,599.82L226.06,600.32L226.71,600.81L227.36,601.29L228.01,601.75L228.66,602.21L229.31,602.65L229.95,603.08L230.60,603.50L231.25,603.90L231.90,604.29L232.55,604.68L233.20,605.06L233.85,605.43L234.50,605.80L235.15,606.16L235.80,606.51L236.45,606.85L237.10,607.19L237.75,607.52L238.39,607.84L239.04,608.15L239.69,608.46L240.34,608.76L240.99,609.04L241.64,609.32L242.29,609.59L242.94,609.85L243.59,610.11L244.24,610.35L244.89,610.58L245.54,610.81L246.18,611.03L246.83,611.25L247.48,611.47L248.13,611.68L248.78,611.89L249.43,612.09L250.08,612.28L250.73,612.47L251.38,612.64L252.03,612.81L252.68,612.97L253.33,613.11L253.98,613.25L254.62,613.38L255.27,613.49L255.92,613.59L256.57,613.68L257.22,613.77L257.87,613.86L258.52,613.94L259.17,614.01L259.82,614.08L260.47,614.15L261.12,614.22L261.77,614.28L262.41,614.35L263.06,614.41L263.71,614.48L264.36,614.54L265.01,614.61L265.66,614.68L266.31,614.75" fill="none" stroke="#008080" stroke-width="1.05"/>
<path d="M72.20,601.07L72.85,602.05L73.50,602.78L74.15,603.15L74.80,603.44L75.45,603.66L76.10,603.80L76.74,603.84L77.39,603.62L78.04,603.12L78.69,602.46L79.34,601.78L79.99,601.09L80.64,600.30L81.29,599.43L81.94,598.48L82.59,597.45L83.24,596.37L83.89,595.20L84.53,593.92L85.18,592.55L85.83,591.09L86.48,589.56L87.13,587.97L87.78,586.35L88.43,584.69L89.08,583.01L89.73,581.33L90.38,579.61L91.03,577.82L91.68,575.99L92.33,574.11L92.97,572.19L93.62,570.24L94.27,568.26L94.92,566.26L95.57,564.26L96.22,562.24L96.87,560.21L97.52,558.15L98.17,556.06L98.82,553.94L99.47,551.80L100.12,549.64L100.76,547.47L101.41,545.28L102.06,543.07L102.71,540.85L103.36,538.60L104.01,536.30L104.66,533.97L105.31,531.63L105.96,529.27L106.61,526.92L107.26,524.59L107.91,522.28L108.56,520.00L109.20,517.77L109.85,515.53L110.50,513.29L111.15,511.05L111.80,508.82L112.45,506.63L113.10,504.48L113.75,502.38L114.40,500.36L115.05,498.41L115.70,496.56L116.35,494.81L116.99,493.13L117.64,491.51L118.29,489.94L118.94,488.39L119.59,486.86L120.24,485.32L120.89,483.76L121.54,482.16L122.19,480.50L122.84,478.75L123.49,476.93L124.14,475.11L124.78,473.30L125.43,471.57L126.08,469.96L126.73,468.49L127.38,467.21L128.03,465.97L128.68,464.77L129.33,463.60L129.98,462.50L130.63,461.48L131.28,460.56L131.93,459.75L132.58,459.07L133.22,458.54L133.87,458.09L134.52,457.65L135.17,457.24L135.82,456.86L136.47,456.52L137.12,456.24L137.77,456.01L138.42,455.86L139.07,455.78L139.72,455.80L140.37,455.91L141.01,456.11L141.66,456.39L142.31,456.74L142.96,457.14L143.61,457.59L144.26,458.07L144.91,458.58L145.56,459.09L146.21,459.60L146.86,460.10L147.51,460.59L148.16,461.12L148.81,461.68L149.45,462.27L150.10,462.90L150.75,463.55L151.40,464.24L152.05,464.95L152.70,465.67L153.35,466.43L154.00,467.20L154.65,467.98L155.30,468.78L155.95,469.59L156.60,470.42L157.24,471.28L157.89,472.17L158.54,473.08L159.19,474.02L159.84,474.99L160.49,475.98L161.14,477.00L161.79,478.05L162.44,479.12L163.09,480.21L163.74,481.33L164.39,482.47L165.04,483.64L165.68,484.83L166.33,486.05L166.98,487.30L167.63,488.61L168.28,489.98L168.93,491.41L169.58,492.87L170.23,494.38L170.88,495.92L171.53,497.48L172.18,499.06L172.83,500.65L173.47,502.24L174.12,503.84L174.77,505.44L175.42,507.07L176.07,508.74L176.72,510.43L177.37,512.14L178.02,513.86L178.67,515.60L179.32,517.34L179.97,519.08L180.62,520.81L181.27,522.54L181.91,524.25L182.56,525.94L183.21,527.65L183.86,529.37L184.51,531.09L185.16,532.81L185.81,534.52L186.46,536.23L187.11,537.92L187.76,539.60L188.41,541.26L189.06,542.90L189.70,544.51L190.35,546.09L191.00,547.67L191.65,549.25L192.30,550.82L192.95,552.37L193.60,553.91L194.25,555.43L194.90,556.91L195.55,558.37L196.20,559.79L196.85,561.17L197.50,562.50L198.14,563.79L198.79,565.06L199.44,566.32L200.09,567.55L200.74,568.76L201.39,569.96L202.04,571.13L202.69,572.28L203.34,573.41L203.99,574.51L204.64,575.60L205.29,576.65L205.93,577.69L206.58,578.69L207.23,579.67L207.88,580.62L208.53,581.55L209.18,582.46L209.83,583.36L210.48,584.24L211.13,585.11L211.78,585.96L212.43,586.79L213.08,587.60L213.73,588.40L214.37,589.18L215.02,589.94L215.67,590.67L216.32,591.39L216.97,592.09L217.62,592.76L218.27,593.41L218.92,594.04L219.57,594.66L220.22,595.27L220.87,595.86L221.52,596.45L222.16,597.02L222.81,597.58L223.46,598.13L224.11,598.67L224.76,599.20L225.41,599.71L226.06,600.22L226.71,600.71L227.36,601.19L228.01,601.66L228.66,602.12L229.31,602.56L229.95,602.99L230.60,603.41L231.25,603.82L231.90,604.22L232.55,604.60L233.20,604.99L233.85,605.36L234.50,605.73L235.15,606.09L235.80,606.45L236.45,606.79L237.10,607.13L237.75,607.46L238.39,607.79L239.04,608.10L239.69,608.41L240.34,608.71L240.99,609.00L241.64,609.28L242.29,609.55L242.94,609.81L243.59,610.07L244.24,610.31L244.89,610.55L245.54,610.77L246.18,611.00L246.83,611.22L247.48,611.44L248.13,611.66L248.78,611.86L249.43,612.06L250.08,612.26L250.73,612.44L251.38,612.62L252.03,612.79L252.68,612.95L253.33,613.10L253.98,613.23L254.62,613.36L255.27,613.47L255.92,613.57L256.57,613.67L257.22,613.76L257.87,613.85L258.52,613.93L259.17,614.00L259.82,614.07L260.47,614.14L261.12,614.21L261.77,614.27L262.41,614.34L263.06,614.40L263.71,614.47L264.36,614.53L265.01,614.60L265.66,614.67L266.31,614.75" fill="none" stroke="#ff00ff" stroke-width="1.05"/>
<path d="M72.20,600.93L72.85,601.93L73.50,602.66L74.15,603.03L74.80,603.32L75.45,603.55L76.10,603.69L76.74,603.72L77.39,603.50L78.04,603.00L78.69,602.34L79.34,601.65L79.99,600.95L80.64,600.16L81.29,599.27L81.94,598.31L82.59,597.28L83.24,596.18L83.89,595.01L84.53,593.71L85.18,592.33L85.83,590.86L86.48,589.31L87.13,587.71L87.78,586.07L88.43,584.39L89.08,582.70L89.73,581.00L90.38,579.26L91.03,577.46L91.68,575.61L92.33,573.71L92.97,571.78L93.62,569.81L94.27,567.81L94.92,565.79L95.57,563.77L96.22,561.74L96.87,559.68L97.52,557.60L98.17,555.49L98.82,553.35L99.47,551.19L100.12,549.01L100.76,546.82L101.41,544.60L102.06,542.38L102.71,540.14L103.36,537.86L104.01,535.54L104.66,533.19L105.31,530.83L105.96,528.45L106.61,526.08L107.26,523.72L107.91,521.39L108.56,519.09L109.20,516.83L109.85,514.58L110.50,512.31L111.15,510.05L111.80,507.80L112.45,505.59L113.10,503.42L113.75,501.30L114.40,499.26L115.05,497.29L115.70,495.43L116.35,493.66L116.99,491.96L117.64,490.33L118.29,488.74L118.94,487.18L119.59,485.63L120.24,484.07L120.89,482.50L121.54,480.89L122.19,479.21L122.84,477.44L123.49,475.61L124.14,473.77L124.78,471.95L125.43,470.20L126.08,468.57L126.73,467.09L127.38,465.79L128.03,464.55L128.68,463.33L129.33,462.15L129.98,461.04L130.63,460.01L131.28,459.08L131.93,458.26L132.58,457.58L133.22,457.04L133.87,456.58L134.52,456.15L135.17,455.73L135.82,455.35L136.47,455.01L137.12,454.72L137.77,454.49L138.42,454.33L139.07,454.25L139.72,454.27L140.37,454.39L141.01,454.59L141.66,454.88L142.31,455.23L142.96,455.63L143.61,456.09L144.26,456.57L144.91,457.08L145.56,457.60L146.21,458.11L146.86,458.62L147.51,459.11L148.16,459.64L148.81,460.21L149.45,460.81L150.10,461.44L150.75,462.10L151.40,462.79L152.05,463.51L152.70,464.25L153.35,465.00L154.00,465.78L154.65,466.57L155.30,467.38L155.95,468.20L156.60,469.04L157.24,469.91L157.89,470.80L158.54,471.72L159.19,472.67L159.84,473.65L160.49,474.65L161.14,475.68L161.79,476.73L162.44,477.81L163.09,478.92L163.74,480.05L164.39,481.20L165.04,482.38L165.68,483.59L166.33,484.81L166.98,486.08L167.63,487.40L168.28,488.78L168.93,490.22L169.58,491.70L170.23,493.22L170.88,494.77L171.53,496.35L172.18,497.94L172.83,499.55L173.47,501.16L174.12,502.77L174.77,504.39L175.42,506.04L176.07,507.72L176.72,509.42L177.37,511.15L178.02,512.89L178.67,514.64L179.32,516.40L179.97,518.16L180.62,519.91L181.27,521.65L181.91,523.37L182.56,525.09L183.21,526.81L183.86,528.55L184.51,530.28L185.16,532.02L185.81,533.75L186.46,535.47L187.11,537.18L187.76,538.88L188.41,540.55L189.06,542.21L189.70,543.83L190.35,545.43L191.00,547.03L191.65,548.62L192.30,550.20L192.95,551.77L193.60,553.32L194.25,554.85L194.90,556.35L195.55,557.82L196.20,559.26L196.85,560.65L197.50,562.00L198.14,563.30L198.79,564.58L199.44,565.85L200.09,567.09L200.74,568.32L201.39,569.52L202.04,570.70L202.69,571.87L203.34,573.01L203.99,574.12L204.64,575.21L205.29,576.28L205.93,577.32L206.58,578.34L207.23,579.33L207.88,580.29L208.53,581.23L209.18,582.15L209.83,583.05L210.48,583.94L211.13,584.82L211.78,585.68L212.43,586.52L213.08,587.34L213.73,588.14L214.37,588.93L215.02,589.69L215.67,590.44L216.32,591.16L216.97,591.86L217.62,592.54L218.27,593.20L218.92,593.84L219.57,594.46L220.22,595.07L220.87,595.67L221.52,596.26L222.16,596.84L222.81,597.41L223.46,597.97L224.11,598.51L224.76,599.04L225.41,599.56L226.06,600.07L226.71,600.57L227.36,601.05L228.01,601.53L228.66,601.99L229.31,602.44L229.95,602.87L230.60,603.30L231.25,603.71L231.90,604.11L232.55,604.50L233.20,604.88L233.85,605.26L234.50,605.64L235.15,606.00L235.80,606.36L236.45,606.71L237.10,607.05L237.75,607.39L238.39,607.71L239.04,608.03L239.69,608.34L240.34,608.64L240.99,608.94L241.64,609.22L242.29,609.49L242.94,609.76L243.59,610.01L244.24,610.26L244.89,610.50L245.54,610.73L246.18,610.96L246.83,611.18L247.48,611.40L248.13,611.62L248.78,611.83L249.43,612.03L250.08,612.23L250.73,612.41L251.38,612.59L252.03,612.76L252.68,612.92L253.33,613.07L253.98,613.21L254.62,613.34L255.27,613.45L255.92,613.56L256.57,613.65L257.22,613.74L257.87,613.83L258.52,613.91L259.17,613.99L259.82,614.06L260.47,614.13L261.12,614.20L261.77,614.26L262.41,614.33L263.06,614.39L263.71,614.46L264.36,614.52L265.01,614.59L265.66,614.66L266.31,614.74" fill="none" stroke="#00c000" stroke-width="1.05"/>
<path d="M72.20,600.79L72.85,601.80L73.50,602.54L74.15,602.91L74.80,603.20L75.45,603.43L76.10,603.58L76.74,603.61L77.39,603.39L78.04,602.89L78.69,602.21L79.34,601.52L79.99,600.82L80.64,600.01L81.29,599.12L81.94,598.15L82.59,597.10L83.24,596.00L83.89,594.81L84.53,593.51L85.18,592.11L85.83,590.62L86.48,589.06L87.13,587.45L87.78,585.79L88.43,584.10L89.08,582.39L89.73,580.68L90.38,578.92L91.03,577.10L91.68,575.24L92.33,573.32L92.97,571.36L93.62,569.37L94.27,567.36L94.92,565.32L95.57,563.28L96.22,561.23L96.87,559.15L97.52,557.05L98.17,554.92L98.82,552.76L99.47,550.59L100.12,548.39L100.76,546.17L101.41,543.93L102.06,541.69L102.71,539.42L103.36,537.13L104.01,534.79L104.66,532.41L105.31,530.03L105.96,527.63L106.61,525.23L107.26,522.85L107.91,520.50L108.56,518.18L109.20,515.90L109.85,513.62L110.50,511.34L111.15,509.05L111.80,506.79L112.45,504.55L113.10,502.36L113.75,500.22L114.40,498.16L115.05,496.18L115.70,494.29L116.35,492.50L116.99,490.79L117.64,489.14L118.29,487.54L118.94,485.96L119.59,484.40L120.24,482.83L120.89,481.24L121.54,479.62L122.19,477.92L122.84,476.14L123.49,474.29L124.14,472.43L124.78,470.59L125.43,468.82L126.08,467.18L126.73,465.69L127.38,464.38L128.03,463.12L128.68,461.89L129.33,460.70L129.98,459.58L130.63,458.54L131.28,457.60L131.93,456.78L132.58,456.08L133.22,455.54L133.87,455.08L134.52,454.64L135.17,454.22L135.82,453.83L136.47,453.49L137.12,453.20L137.77,452.97L138.42,452.81L139.07,452.73L139.72,452.75L140.37,452.86L141.01,453.07L141.66,453.36L142.31,453.71L142.96,454.12L143.61,454.58L144.26,455.07L144.91,455.58L145.56,456.10L146.21,456.62L146.86,457.13L147.51,457.64L148.16,458.17L148.81,458.74L149.45,459.35L150.10,459.99L150.75,460.65L151.40,461.35L152.05,462.07L152.70,462.82L153.35,463.58L154.00,464.37L154.65,465.17L155.30,465.98L155.95,466.81L156.60,467.65L157.24,468.53L157.89,469.43L158.54,470.36L159.19,471.32L159.84,472.31L160.49,473.32L161.14,474.36L161.79,475.42L162.44,476.51L163.09,477.63L163.74,478.77L164.39,479.93L165.04,481.13L165.68,482.34L166.33,483.58L166.98,484.85L167.63,486.19L168.28,487.59L168.93,489.04L169.58,490.53L170.23,492.07L170.88,493.63L171.53,495.22L172.18,496.83L172.83,498.46L173.47,500.08L174.12,501.71L174.77,503.34L175.42,505.00L176.07,506.70L176.72,508.42L177.37,510.16L178.02,511.92L178.67,513.69L179.32,515.46L179.97,517.23L180.62,519.00L181.27,520.76L181.91,522.50L182.56,524.23L183.21,525.98L183.86,527.72L184.51,529.48L185.16,531.23L185.81,532.98L186.46,534.71L187.11,536.44L187.76,538.15L188.41,539.84L189.06,541.51L189.70,543.15L190.35,544.77L191.00,546.38L191.65,547.99L192.30,549.58L192.95,551.17L193.60,552.73L194.25,554.28L194.90,555.79L195.55,557.28L196.20,558.72L196.85,560.13L197.50,561.49L198.14,562.80L198.79,564.10L199.44,565.38L200.09,566.63L200.74,567.87L201.39,569.09L202.04,570.28L202.69,571.45L203.34,572.60L203.99,573.73L204.64,574.83L205.29,575.91L205.93,576.96L206.58,577.99L207.23,578.99L207.88,579.96L208.53,580.90L209.18,581.83L209.83,582.75L210.48,583.64L211.13,584.53L211.78,585.39L212.43,586.24L213.08,587.07L213.73,587.88L214.37,588.67L215.02,589.45L215.67,590.20L216.32,590.93L216.97,591.64L217.62,592.33L218.27,592.99L218.92,593.63L219.57,594.26L220.22,594.88L220.87,595.49L221.52,596.08L222.16,596.67L222.81,597.24L223.46,597.80L224.11,598.35L224.76,598.89L225.41,599.41L226.06,599.92L226.71,600.43L227.36,600.92L228.01,601.39L228.66,601.86L229.31,602.31L229.95,602.75L230.60,603.18L231.25,603.60L231.90,604.00L232.55,604.39L233.20,604.78L233.85,605.17L234.50,605.54L235.15,605.91L235.80,606.27L236.45,606.62L237.10,606.97L237.75,607.31L238.39,607.64L239.04,607.96L239.69,608.27L240.34,608.58L240.99,608.87L241.64,609.16L242.29,609.44L242.94,609.70L243.59,609.96L244.24,610.21L244.89,610.45L245.54,610.68L246.18,610.91L246.83,611.14L247.48,611.36L248.13,611.58L248.78,611.79L249.43,612.00L250.08,612.19L250.73,612.38L251.38,612.57L252.03,612.74L252.68,612.90L253.33,613.05L253.98,613.19L254.62,613.32L255.27,613.43L255.92,613.54L256.57,613.63L257.22,613.73L257.87,613.81L258.52,613.89L259.17,613.97L259.82,614.04L260.47,614.11L261.12,614.18L261.77,614.25L262.41,614.31L263.06,614.38L263.71,614.45L264.36,614.51L265.01,614.58L265.66,614.65L266.31,614.73" fill="none" stroke="#1a1aff" stroke-width="1.2"/>
<path d="M72.20,613.42L73.18,612.97L74.15,612.52L75.13,612.07L76.10,611.61L77.08,611.16L78.05,610.70L79.03,610.24L80.00,609.79L80.98,609.33L81.95,608.88L82.93,608.42L83.91,607.97L84.88,607.52L85.86,607.07L86.83,606.63L87.81,606.18L88.78,605.75L89.76,605.31L90.73,604.88L91.71,604.45L92.68,604.03L93.66,603.62L94.63,603.21L95.61,602.81L96.59,602.41L97.56,602.02L98.54,601.62L99.51,601.24L100.49,600.85L101.46,600.46L102.44,600.07L103.41,599.69L104.39,599.30L105.36,598.91L106.34,598.51L107.32,598.11L108.29,597.71L109.27,597.30L110.24,596.89L111.22,596.47L112.19,596.04L113.17,595.60L114.14,595.15L115.12,594.68L116.09,594.20L117.07,593.71L118.05,593.21L119.02,592.70L120.00,592.18L120.97,591.65L121.95,591.13L122.92,590.60L123.90,590.07L124.87,589.54L125.85,589.02L126.82,588.50L127.80,587.99L128.77,587.49L129.75,587.00L130.73,586.52L131.70,586.06L132.68,585.61L133.65,585.19L134.63,584.78L135.60,584.39L136.58,584.00L137.55,583.63L138.53,583.28L139.50,582.97L140.48,582.70L141.46,582.46L142.43,582.24L143.41,582.02L144.38,581.81L145.36,581.62L146.33,581.44L147.31,581.29L148.28,581.15L149.26,581.04L150.23,580.94L151.21,580.86L152.19,580.77L153.16,580.69L154.14,580.61L155.11,580.54L156.09,580.48L157.06,580.43L158.04,580.38L159.01,580.35L159.99,580.33L160.96,580.32L161.94,580.35L162.91,580.43L163.89,580.55L164.87,580.71L165.84,580.89L166.82,581.09L167.79,581.30L168.77,581.52L169.74,581.75L170.72,582.01L171.69,582.32L172.67,582.66L173.64,583.04L174.62,583.44L175.60,583.87L176.57,584.31L177.55,584.76L178.52,585.22L179.50,585.67L180.47,586.16L181.45,586.68L182.42,587.23L183.40,587.81L184.37,588.40L185.35,589.01L186.32,589.63L187.30,590.24L188.28,590.86L189.25,591.47L190.23,592.06L191.20,592.64L192.18,593.19L193.15,593.71L194.13,594.23L195.10,594.75L196.08,595.26L197.05,595.76L198.03,596.26L199.01,596.74L199.98,597.23L200.96,597.70L201.93,598.17L202.91,598.62L203.88,599.07L204.86,599.51L205.83,599.93L206.81,600.35L207.78,600.76L208.76,601.16L209.74,601.55L210.71,601.94L211.69,602.32L212.66,602.69L213.64,603.06L214.61,603.43L215.59,603.80L216.56,604.16L217.54,604.53L218.51,604.89L219.49,605.26L220.46,605.63L221.44,606.00L222.42,606.38L223.39,606.75L224.37,607.12L225.34,607.48L226.32,607.83L227.29,608.18L228.27,608.52L229.24,608.84L230.22,609.16L231.19,609.45L232.17,609.74L233.15,610.02L234.12,610.30L235.10,610.57L236.07,610.84L237.05,611.10L238.02,611.35L239.00,611.59L239.97,611.83L240.95,612.05L241.92,612.26L242.90,612.45L243.88,612.63L244.85,612.80L245.83,612.95L246.80,613.10L247.78,613.24L248.75,613.38L249.73,613.50L250.70,613.62L251.68,613.74L252.65,613.84L253.63,613.94L254.60,614.02L255.58,614.10L256.56,614.18L257.53,614.24L258.51,614.30L259.48,614.36L260.46,614.42L261.43,614.47L262.41,614.52L263.38,614.57L264.36,614.62L265.33,614.67L266.31,614.73" fill="none" stroke="#c43a58" stroke-width="1.2"/>
<line x1="72.2" y1="440.3" x2="72.2" y2="616.5" stroke="#111" stroke-width="1.5"/>
<line x1="71.5" y1="615.8" x2="267.0" y2="615.8" stroke="#111" stroke-width="1.5"/>
<line x1="69.2" y1="615.60" x2="72.2" y2="615.60" stroke="#111" stroke-width="1.1"/>
<text transform="translate(66.8,618.50) scale(1,1.12)" class="sb" font-size="7.8" text-anchor="end">0.0</text>
<line x1="69.2" y1="572.05" x2="72.2" y2="572.05" stroke="#111" stroke-width="1.1"/>
<text transform="translate(64.2,574.95) scale(1,1.12)" class="sb" font-size="7.8" text-anchor="end">2.0x10</text>
<text x="65.0" y="571.05" class="sb" font-size="4.4">5</text>
<line x1="69.2" y1="528.50" x2="72.2" y2="528.50" stroke="#111" stroke-width="1.1"/>
<text transform="translate(64.2,531.40) scale(1,1.12)" class="sb" font-size="7.8" text-anchor="end">4.0x10</text>
<text x="65.0" y="527.50" class="sb" font-size="4.4">5</text>
<line x1="69.2" y1="484.95" x2="72.2" y2="484.95" stroke="#111" stroke-width="1.1"/>
<text transform="translate(64.2,487.85) scale(1,1.12)" class="sb" font-size="7.8" text-anchor="end">6.0x10</text>
<text x="65.0" y="483.95" class="sb" font-size="4.4">5</text>
<line x1="69.2" y1="441.40" x2="72.2" y2="441.40" stroke="#111" stroke-width="1.1"/>
<text transform="translate(64.2,444.30) scale(1,1.12)" class="sb" font-size="7.8" text-anchor="end">8.0x10</text>
<text x="65.0" y="440.40" class="sb" font-size="4.4">5</text>
<line x1="70.4" y1="593.83" x2="72.2" y2="593.83" stroke="#111" stroke-width="1"/>
<line x1="70.4" y1="550.28" x2="72.2" y2="550.28" stroke="#111" stroke-width="1"/>
<line x1="70.4" y1="506.73" x2="72.2" y2="506.73" stroke="#111" stroke-width="1"/>
<line x1="70.4" y1="463.18" x2="72.2" y2="463.18" stroke="#111" stroke-width="1"/>
<line x1="72.20" y1="615.8" x2="72.20" y2="618.8" stroke="#111" stroke-width="1.1"/>
<text transform="translate(72.20,627.4) scale(1,1.15)" class="sb" font-size="8" text-anchor="middle">450</text>
<line x1="86.06" y1="615.8" x2="86.06" y2="617.5999999999999" stroke="#111" stroke-width="1.1"/>
<line x1="99.93" y1="615.8" x2="99.93" y2="618.8" stroke="#111" stroke-width="1.1"/>
<text transform="translate(99.93,627.4) scale(1,1.15)" class="sb" font-size="8" text-anchor="middle">500</text>
<line x1="113.80" y1="615.8" x2="113.80" y2="617.5999999999999" stroke="#111" stroke-width="1.1"/>
<line x1="127.66" y1="615.8" x2="127.66" y2="618.8" stroke="#111" stroke-width="1.1"/>
<text transform="translate(127.66,627.4) scale(1,1.15)" class="sb" font-size="8" text-anchor="middle">550</text>
<line x1="141.53" y1="615.8" x2="141.53" y2="617.5999999999999" stroke="#111" stroke-width="1.1"/>
<line x1="155.39" y1="615.8" x2="155.39" y2="618.8" stroke="#111" stroke-width="1.1"/>
<text transform="translate(155.39,627.4) scale(1,1.15)" class="sb" font-size="8" text-anchor="middle">600</text>
<line x1="169.25" y1="615.8" x2="169.25" y2="617.5999999999999" stroke="#111" stroke-width="1.1"/>
<line x1="183.12" y1="615.8" x2="183.12" y2="618.8" stroke="#111" stroke-width="1.1"/>
<text transform="translate(183.12,627.4) scale(1,1.15)" class="sb" font-size="8" text-anchor="middle">650</text>
<line x1="196.99" y1="615.8" x2="196.99" y2="617.5999999999999" stroke="#111" stroke-width="1.1"/>
<line x1="210.85" y1="615.8" x2="210.85" y2="618.8" stroke="#111" stroke-width="1.1"/>
<text transform="translate(210.85,627.4) scale(1,1.15)" class="sb" font-size="8" text-anchor="middle">700</text>
<line x1="224.72" y1="615.8" x2="224.72" y2="617.5999999999999" stroke="#111" stroke-width="1.1"/>
<line x1="238.58" y1="615.8" x2="238.58" y2="618.8" stroke="#111" stroke-width="1.1"/>
<text transform="translate(238.58,627.4) scale(1,1.15)" class="sb" font-size="8" text-anchor="middle">750</text>
<line x1="252.44" y1="615.8" x2="252.44" y2="617.5999999999999" stroke="#111" stroke-width="1.1"/>
<line x1="266.31" y1="615.8" x2="266.31" y2="618.8" stroke="#111" stroke-width="1.1"/>
<text transform="translate(266.31,627.4) scale(1,1.15)" class="sb" font-size="8" text-anchor="middle">800</text>
<text x="132" y="642.4" class="sb" font-size="8.9">Wavelength<tspan dx="9.3">(nm)</tspan></text>
<text transform="translate(30.3,563.4) rotate(-90)" class="s" font-size="9.6" xml:space="preserve">Intensity  (a.u.)</text>
<text x="73.9" y="452.8" class="sb" font-size="10.2">(a)</text>
<text x="106.0" y="456.6" class="sb" font-size="8.2">Hg<tspan font-size="4.8" dx="0.4" dy="-4.5">2+</tspan></text>
<text x="120.7" y="523.6" class="sb" font-size="8.2">Fe<tspan font-size="4.8" dx="0.4" dy="-4.5">2+</tspan></text>
<text x="136" y="599.5" class="sb" font-size="8.4">Cu<tspan font-size="4.8" dx="0.4" dy="-4.5">2+</tspan></text>
<text x="178.2" y="454.2" class="sb" font-size="8.2" textLength="68.9" lengthAdjust="spacingAndGlyphs">QDs,Fe<tspan font-size="4.8" dx="0.2" dy="-4.5">3+</tspan><tspan dy="4.5">,Cr</tspan><tspan font-size="4.8" dx="0.2" dy="-4.5">3+</tspan><tspan dy="4.5">,La</tspan><tspan font-size="4.8" dx="0.2" dy="-4.5">3+</tspan><tspan dy="4.5">,</tspan></text>
<text x="178.2" y="465.8" class="sb" font-size="8.2" textLength="69.3" lengthAdjust="spacingAndGlyphs">Mg<tspan font-size="4.8" dx="0.2" dy="-4.5">2+</tspan><tspan dy="4.5">,Mn</tspan><tspan font-size="4.8" dx="0.2" dy="-4.5">2+</tspan><tspan dy="4.5">,Na</tspan><tspan font-size="4.8" dx="0.2" dy="-4.5">+</tspan><tspan dy="4.5">,Ni</tspan><tspan font-size="4.8" dx="0.2" dy="-4.5">2+</tspan><tspan dy="4.5">,</tspan></text>
<text x="178.2" y="477.4" class="sb" font-size="8.2" textLength="66.9" lengthAdjust="spacingAndGlyphs">Pb<tspan font-size="4.8" dx="0.2" dy="-4.5">2+</tspan><tspan dy="4.5">,Zn</tspan><tspan font-size="4.8" dx="0.2" dy="-4.5">2+</tspan><tspan dy="4.5">,Al</tspan><tspan font-size="4.8" dx="0.2" dy="-4.5">3+</tspan><tspan dy="4.5">,Ba</tspan><tspan font-size="4.8" dx="0.2" dy="-4.5">2+</tspan><tspan dy="4.5">,</tspan></text>
<text x="178.2" y="489.0" class="sb" font-size="8.2" textLength="61.0" lengthAdjust="spacingAndGlyphs">Ca<tspan font-size="4.8" dx="0.2" dy="-4.5">2+</tspan><tspan dy="4.5">,Cd</tspan><tspan font-size="4.8" dx="0.2" dy="-4.5">2+</tspan><tspan dy="4.5">,Co</tspan><tspan font-size="4.8" dx="0.2" dy="-4.5">2+</tspan><tspan dy="4.5">,K</tspan><tspan font-size="4.8" dx="0.2" dy="-4.5">+</tspan></text>
<line x1="119.5" y1="457.7" x2="132.16" y2="473.36" stroke="#111" stroke-width="0.9"/>
<path d="M134.30,476.00 L131.07,474.24 L133.25,472.48 Z" fill="#111"/>
<line x1="126.3" y1="514.4" x2="134.13" y2="496.61" stroke="#111" stroke-width="0.9"/>
<path d="M135.50,493.50 L135.41,497.18 L132.85,496.05 Z" fill="#111"/>
<line x1="174.8" y1="460.3" x2="159.55" y2="469.10" stroke="#111" stroke-width="0.9"/>
<path d="M156.60,470.80 L158.85,467.89 L160.24,470.31 Z" fill="#111"/>
<line x1="144" y1="591.5" x2="151.58" y2="583.99" stroke="#111" stroke-width="0.9"/>
<path d="M154.00,581.60 L152.57,584.99 L150.60,583.00 Z" fill="#111"/>
<line x1="356.6" y1="27.1" x2="356.6" y2="167.5" stroke="#111" stroke-width="1.5"/>
<line x1="355.90000000000003" y1="166.8" x2="513.9" y2="166.8" stroke="#111" stroke-width="1.5"/>
<line x1="352.40000000000003" y1="165.60" x2="356.6" y2="165.60" stroke="#111" stroke-width="1.2"/>
<text transform="translate(353.20,170.60) scale(1.0,1.16)" class="rb" font-size="13.5" text-anchor="end">0</text>
<line x1="352.40000000000003" y1="124.00" x2="356.6" y2="124.00" stroke="#111" stroke-width="1.2"/>
<text transform="translate(353.20,129.00) scale(1.0,1.16)" class="rb" font-size="13.5" text-anchor="end">300</text>
<line x1="352.40000000000003" y1="82.40" x2="356.6" y2="82.40" stroke="#111" stroke-width="1.2"/>
<text transform="translate(353.20,87.40) scale(1.0,1.16)" class="rb" font-size="13.5" text-anchor="end">600</text>
<line x1="352.40000000000003" y1="40.80" x2="356.6" y2="40.80" stroke="#111" stroke-width="1.2"/>
<text transform="translate(353.20,45.80) scale(1.0,1.16)" class="rb" font-size="13.5" text-anchor="end">900</text>
<line x1="354.20000000000005" y1="144.80" x2="356.6" y2="144.80" stroke="#111" stroke-width="1.1"/>
<line x1="354.20000000000005" y1="103.20" x2="356.6" y2="103.20" stroke="#111" stroke-width="1.1"/>
<line x1="354.20000000000005" y1="61.60" x2="356.6" y2="61.60" stroke="#111" stroke-width="1.1"/>
<line x1="356.60" y1="166.8" x2="356.60" y2="170.8" stroke="#111" stroke-width="1.2"/>
<text transform="translate(356.60,183.40) scale(1.0,1.16)" class="rb" font-size="13.2" text-anchor="middle">400</text>
<line x1="395.80" y1="166.8" x2="395.80" y2="169.4" stroke="#111" stroke-width="1.2"/>
<line x1="435.00" y1="166.8" x2="435.00" y2="170.8" stroke="#111" stroke-width="1.2"/>
<text transform="translate(435.00,183.40) scale(1.0,1.16)" class="rb" font-size="13.2" text-anchor="middle">600</text>
<line x1="474.20" y1="166.8" x2="474.20" y2="169.4" stroke="#111" stroke-width="1.2"/>
<line x1="513.40" y1="166.8" x2="513.40" y2="170.8" stroke="#111" stroke-width="1.2"/>
<text transform="translate(513.40,183.40) scale(1.0,1.16)" class="rb" font-size="13.2" text-anchor="middle">800</text>
<text x="436.80" y="196.40" class="rb" font-size="13.6" text-anchor="middle">Wavelength / nm</text>
<text transform="translate(327.00,103.65) rotate(-90)" class="rb" font-size="14.6" text-anchor="middle">FL intensity / a.u.</text>
<text x="362.8" y="38.9" class="rb" font-size="15.8" letter-spacing="0.6">(1)</text>
<path d="M359.10,154.50L359.48,154.68L359.87,154.86L360.25,155.04L360.64,155.22L361.02,155.41L361.41,155.62L361.79,155.86L362.18,156.09L362.56,156.30L362.94,156.48L363.33,156.62L363.71,156.76L364.10,156.90L364.48,157.03L364.87,157.15L365.25,157.27L365.64,157.38L366.02,157.48L366.40,157.57L366.79,157.64L367.17,157.71L367.56,157.76L367.94,157.80L368.33,157.83L368.71,157.86L369.10,157.88L369.48,157.90L369.86,157.91L370.25,157.93L370.63,157.95L371.02,157.97L371.40,157.99L371.79,158.02L372.17,158.05L372.56,158.08L372.94,158.12L373.33,158.15L373.71,158.19L374.09,158.23L374.48,158.28L374.86,158.33L375.25,158.38L375.63,158.44L376.02,158.50L376.40,158.58L376.79,158.67L377.17,158.77L377.55,158.86L377.94,158.96L378.32,159.05L378.71,159.14L379.09,159.22L379.48,159.30L379.86,159.39L380.25,159.48L380.63,159.57L381.01,159.66L381.40,159.74L381.78,159.81L382.17,159.86L382.55,159.89L382.94,159.90L383.32,159.88L383.71,159.83L384.09,159.75L384.47,159.66L384.86,159.54L385.24,159.42L385.63,159.25L386.01,159.00L386.40,158.67L386.78,158.28L387.17,157.84L387.55,157.33L387.93,156.71L388.32,155.98L388.70,155.14L389.09,154.20L389.47,153.16L389.86,152.03L390.24,150.82L390.63,149.48L391.01,147.83L391.39,145.90L391.78,143.72L392.16,141.36L392.55,138.85L392.93,136.26L393.32,133.62L393.70,130.99L394.09,128.28L394.47,125.40L394.85,122.38L395.24,119.24L395.62,116.03L396.01,112.76L396.39,109.49L396.78,106.23L397.16,102.99L397.55,99.69L397.93,96.34L398.32,92.96L398.70,89.56L399.08,86.16L399.47,82.78L399.85,79.43L400.24,76.11L400.62,72.68L401.01,69.16L401.39,65.62L401.78,62.14L402.16,58.79L402.54,55.66L402.93,52.81L403.31,50.32L403.70,48.04L404.08,45.89L404.47,44.02L404.85,42.60L405.24,41.65L405.62,40.82L406.00,40.15L406.39,39.76L406.77,39.71L407.16,39.79L407.54,39.94L407.93,40.14L408.31,40.38L408.70,40.78L409.08,41.38L409.46,42.13L409.85,43.02L410.23,44.27L410.62,45.98L411.00,48.08L411.39,50.48L411.77,53.12L412.16,55.91L412.54,58.78L412.92,61.64L413.31,64.62L413.69,67.98L414.08,71.64L414.46,75.48L414.85,79.41L415.23,83.30L415.62,87.07L416.00,90.60L416.38,93.82L416.77,96.93L417.15,99.97L417.54,102.93L417.92,105.81L418.31,108.58L418.69,111.26L419.08,113.83L419.46,116.28L419.84,118.71L420.23,121.15L420.61,123.57L421.00,125.94L421.38,128.25L421.77,130.45L422.15,132.52L422.54,134.44L422.92,136.17L423.31,137.69L423.69,138.97L424.07,140.07L424.46,141.07L424.84,141.98L425.23,142.81L425.61,143.55L426.00,144.22L426.38,144.83L426.77,145.37L427.15,145.89L427.53,146.36L427.92,146.80L428.30,147.19L428.69,147.52L429.07,147.78L429.46,148.01L429.84,148.23L430.23,148.45L430.61,148.65L430.99,148.83L431.38,149.00L431.76,149.14L432.15,149.26L432.53,149.34L432.92,149.39L433.30,149.40L433.69,149.39L434.07,149.38L434.45,149.35L434.84,149.32L435.22,149.28L435.61,149.24L435.99,149.19L436.38,149.13L436.76,149.08L437.15,149.02L437.53,148.96L437.91,148.89L438.30,148.83L438.68,148.76L439.07,148.70L439.45,148.64L439.84,148.58L440.22,148.51L440.61,148.43L440.99,148.35L441.37,148.25L441.76,148.16L442.14,148.05L442.53,147.95L442.91,147.84L443.30,147.73L443.68,147.63L444.07,147.52L444.45,147.42L444.83,147.33L445.22,147.24L445.60,147.15L445.99,147.08L446.37,147.02L446.76,146.97L447.14,146.93L447.53,146.91L447.91,146.90L448.29,146.90L448.68,146.91L449.06,146.93L449.45,146.95L449.83,146.97L450.22,147.00L450.60,147.03L450.99,147.07L451.37,147.12L451.76,147.17L452.14,147.22L452.52,147.28L452.91,147.34L453.29,147.40L453.68,147.47L454.06,147.54L454.45,147.62L454.83,147.70L455.22,147.78L455.60,147.88L455.98,148.04L456.37,148.24L456.75,148.48L457.14,148.74L457.52,149.01L457.91,149.29L458.29,149.56L458.68,149.82L459.06,150.09L459.44,150.38L459.83,150.69L460.21,151.01L460.60,151.34L460.98,151.66L461.37,151.99L461.75,152.32L462.14,152.64L462.52,152.94L462.90,153.23L463.29,153.50L463.67,153.75L464.06,153.98L464.44,154.17L464.83,154.34L465.21,154.50L465.60,154.64L465.98,154.77L466.36,154.90L466.75,155.02L467.13,155.14L467.52,155.26L467.90,155.39L468.29,155.52L468.67,155.67L469.06,155.83L469.44,156.02L469.82,156.22L470.21,156.45L470.59,156.70L470.98,156.97L471.36,157.24L471.75,157.52L472.13,157.80L472.52,158.08L472.90,158.35L473.28,158.61L473.67,158.86L474.05,159.09L474.44,159.29L474.82,159.47L475.21,159.62L475.59,159.76L475.98,159.90L476.36,160.02L476.75,160.14L477.13,160.26L477.51,160.36L477.90,160.47L478.28,160.57L478.67,160.67L479.05,160.78L479.44,160.88L479.82,160.98L480.21,161.09L480.59,161.20L480.97,161.31L481.36,161.43L481.74,161.55L482.13,161.67L482.51,161.79L482.90,161.91L483.28,162.03L483.67,162.15L484.05,162.27L484.43,162.39L484.82,162.50L485.20,162.61L485.59,162.72L485.97,162.82L486.36,162.91L486.74,163.00L487.13,163.08L487.51,163.16L487.89,163.24L488.28,163.31L488.66,163.39L489.05,163.46L489.43,163.53L489.82,163.60L490.20,163.66L490.59,163.72L490.97,163.78L491.35,163.84L491.74,163.89L492.12,163.94L492.51,163.99L492.89,164.03L493.28,164.07L493.66,164.10L494.05,164.13L494.43,164.15L494.81,164.18L495.20,164.20L495.58,164.22L495.97,164.24L496.35,164.26L496.74,164.28L497.12,164.30L497.51,164.32L497.89,164.33L498.27,164.35L498.66,164.36L499.04,164.38L499.43,164.39L499.81,164.41L500.20,164.43L500.58,164.44L500.97,164.46L501.35,164.47L501.74,164.49L502.12,164.51L502.50,164.53L502.89,164.55L503.27,164.57L503.66,164.58L504.04,164.60L504.43,164.62L504.81,164.64L505.20,164.66L505.58,164.67L505.96,164.69L506.35,164.71L506.73,164.73L507.12,164.75L507.50,164.77L507.89,164.78L508.27,164.80L508.66,164.82L509.04,164.84L509.42,164.86L509.81,164.87L510.19,164.89L510.58,164.91L510.96,164.93L511.35,164.95L511.73,164.96L512.12,164.98L512.50,165.00" fill="none" stroke="#14f014" stroke-width="1.85" stroke-linejoin="round"/>
<defs><linearGradient id="v1e" x1="0" y1="0" x2="1" y2="0"><stop offset="0" stop-color="#1fa4e6" stop-opacity="0.95"/><stop offset="0.07" stop-color="#1fa4e6" stop-opacity="0.5"/><stop offset="0.15" stop-color="#1fa4e6" stop-opacity="0"/><stop offset="0.85" stop-color="#1fa4e6" stop-opacity="0"/><stop offset="0.93" stop-color="#1fa4e6" stop-opacity="0.5"/><stop offset="1" stop-color="#1fa4e6" stop-opacity="0.95"/></linearGradient><linearGradient id="v1l" x1="0" y1="0" x2="1" y2="0"><stop offset="0" stop-color="#14b050"/><stop offset="0.25" stop-color="#18d838"/><stop offset="0.75" stop-color="#18d838"/><stop offset="1" stop-color="#14b050"/></linearGradient></defs><rect x="361.8" y="54.8" width="27.60" height="43.10" fill="#05070c"/><rect x="361.8" y="57.199999999999996" width="27.60" height="12.40" fill="#0a1b2e"/><rect x="361.8" y="57.199999999999996" width="27.60" height="3.2" fill="#146a92" opacity="0.75"/><path d="M361.8,69.0 Q375.6,70.6 389.4,69.0 L389.4,92.3 L361.8,92.3 Z" fill="url(#v1l)"/><path d="M362.8,69.19999999999999 Q375.6,70.5 388.4,69.19999999999999" fill="none" stroke="#7af07a" stroke-width="0.8" opacity="0.7"/><rect x="361.8" y="92.3" width="27.60" height="4.80" fill="#0b3552"/><rect x="361.8" y="57.199999999999996" width="27.60" height="12.40" fill="url(#v1e)"/><rect x="361.8" y="69.6" width="27.60" height="22.70" fill="url(#v1e)" opacity="0.3"/><rect x="361.8" y="92.3" width="27.60" height="4.80" fill="url(#v1e)"/>
<path d="M472.3,109.3 L513.9,109.3 L513.9,107.0 L519.1,112.0 L513.9,117.0 L513.9,114.7 L472.3,114.7 Z" fill="#0f17e8"/>
<text x="480.6" y="103.9" class="rb" font-size="14.2">Phen</text>
<line x1="358.9" y1="228.6" x2="358.9" y2="372.3" stroke="#111" stroke-width="1.5"/>
<line x1="358.2" y1="371.6" x2="518.3" y2="371.6" stroke="#111" stroke-width="1.5"/>
<line x1="354.7" y1="370.50" x2="358.9" y2="370.50" stroke="#111" stroke-width="1.2"/>
<text transform="translate(355.50,375.50) scale(1.0,1.16)" class="rb" font-size="13.5" text-anchor="end">0</text>
<line x1="354.7" y1="328.02" x2="358.9" y2="328.02" stroke="#111" stroke-width="1.2"/>
<text transform="translate(355.50,333.02) scale(1.0,1.16)" class="rb" font-size="13.5" text-anchor="end">300</text>
<line x1="354.7" y1="285.54" x2="358.9" y2="285.54" stroke="#111" stroke-width="1.2"/>
<text transform="translate(355.50,290.54) scale(1.0,1.16)" class="rb" font-size="13.5" text-anchor="end">600</text>
<line x1="354.7" y1="243.06" x2="358.9" y2="243.06" stroke="#111" stroke-width="1.2"/>
<text transform="translate(355.50,248.06) scale(1.0,1.16)" class="rb" font-size="13.5" text-anchor="end">900</text>
<line x1="356.5" y1="349.26" x2="358.9" y2="349.26" stroke="#111" stroke-width="1.1"/>
<line x1="356.5" y1="306.78" x2="358.9" y2="306.78" stroke="#111" stroke-width="1.1"/>
<line x1="356.5" y1="264.30" x2="358.9" y2="264.30" stroke="#111" stroke-width="1.1"/>
<line x1="358.90" y1="371.6" x2="358.90" y2="375.6" stroke="#111" stroke-width="1.2"/>
<text transform="translate(358.90,388.20) scale(1.0,1.16)" class="rb" font-size="13.2" text-anchor="middle">400</text>
<line x1="398.62" y1="371.6" x2="398.62" y2="374.20000000000005" stroke="#111" stroke-width="1.2"/>
<line x1="438.35" y1="371.6" x2="438.35" y2="375.6" stroke="#111" stroke-width="1.2"/>
<text transform="translate(438.35,388.20) scale(1.0,1.16)" class="rb" font-size="13.2" text-anchor="middle">600</text>
<line x1="478.07" y1="371.6" x2="478.07" y2="374.20000000000005" stroke="#111" stroke-width="1.2"/>
<line x1="517.80" y1="371.6" x2="517.80" y2="375.6" stroke="#111" stroke-width="1.2"/>
<text transform="translate(517.80,388.20) scale(1.0,1.16)" class="rb" font-size="13.2" text-anchor="middle">800</text>
<text x="440.15" y="401.20" class="rb" font-size="13.6" text-anchor="middle">Wavelength / nm</text>
<text transform="translate(329.30,306.80) rotate(-90)" class="rb" font-size="15.1" text-anchor="middle">FL intensity / a.u.</text>
<text x="364.4" y="239.9" class="rb" font-size="15.8" letter-spacing="0.6">(2)</text>
<path d="M362.00,357.70L362.39,357.89L362.78,358.08L363.17,358.27L363.56,358.46L363.95,358.66L364.34,358.86L364.73,359.06L365.12,359.25L365.51,359.45L365.89,359.64L366.28,359.82L366.67,360.00L367.06,360.17L367.45,360.34L367.84,360.49L368.23,360.64L368.62,360.78L369.01,360.91L369.40,361.05L369.79,361.18L370.18,361.31L370.57,361.43L370.96,361.56L371.35,361.68L371.74,361.79L372.13,361.90L372.52,362.01L372.91,362.11L373.29,362.20L373.68,362.29L374.07,362.36L374.46,362.43L374.85,362.49L375.24,362.55L375.63,362.60L376.02,362.64L376.41,362.68L376.80,362.72L377.19,362.75L377.58,362.79L377.97,362.82L378.36,362.85L378.75,362.88L379.14,362.90L379.53,362.93L379.92,362.96L380.31,362.99L380.69,363.02L381.08,363.05L381.47,363.08L381.86,363.11L382.25,363.15L382.64,363.19L383.03,363.23L383.42,363.28L383.81,363.33L384.20,363.39L384.59,363.46L384.98,363.53L385.37,363.61L385.76,363.69L386.15,363.78L386.54,363.87L386.93,363.96L387.32,364.05L387.71,364.14L388.09,364.22L388.48,364.30L388.87,364.38L389.26,364.45L389.65,364.53L390.04,364.61L390.43,364.69L390.82,364.78L391.21,364.86L391.60,364.94L391.99,365.02L392.38,365.09L392.77,365.16L393.16,365.21L393.55,365.25L393.94,365.28L394.33,365.30L394.72,365.30L395.11,365.30L395.49,365.29L395.88,365.28L396.27,365.27L396.66,365.25L397.05,365.23L397.44,365.21L397.83,365.19L398.22,365.16L398.61,365.13L399.00,365.10L399.39,365.07L399.78,365.04L400.17,365.00L400.56,364.97L400.95,364.93L401.34,364.89L401.73,364.86L402.12,364.82L402.51,364.78L402.89,364.74L403.28,364.70L403.67,364.66L404.06,364.61L404.45,364.56L404.84,364.50L405.23,364.43L405.62,364.36L406.01,364.29L406.40,364.21L406.79,364.13L407.18,364.05L407.57,363.97L407.96,363.88L408.35,363.80L408.74,363.72L409.13,363.63L409.52,363.55L409.91,363.47L410.29,363.39L410.68,363.32L411.07,363.25L411.46,363.18L411.85,363.12L412.24,363.07L412.63,363.01L413.02,362.96L413.41,362.91L413.80,362.86L414.19,362.81L414.58,362.77L414.97,362.72L415.36,362.68L415.75,362.64L416.14,362.59L416.53,362.55L416.92,362.51L417.31,362.47L417.69,362.43L418.08,362.39L418.47,362.35L418.86,362.30L419.25,362.26L419.64,362.22L420.03,362.17L420.42,362.13L420.81,362.08L421.20,362.03L421.59,361.98L421.98,361.93L422.37,361.88L422.76,361.82L423.15,361.76L423.54,361.70L423.93,361.64L424.32,361.58L424.71,361.52L425.09,361.45L425.48,361.38L425.87,361.31L426.26,361.24L426.65,361.17L427.04,361.10L427.43,361.02L427.82,360.95L428.21,360.87L428.60,360.79L428.99,360.70L429.38,360.62L429.77,360.53L430.16,360.44L430.55,360.35L430.94,360.26L431.33,360.17L431.72,360.07L432.11,359.97L432.49,359.87L432.88,359.76L433.27,359.64L433.66,359.52L434.05,359.40L434.44,359.27L434.83,359.14L435.22,359.00L435.61,358.85L436.00,358.70L436.39,358.54L436.78,358.37L437.17,358.19L437.56,358.00L437.95,357.80L438.34,357.59L438.73,357.38L439.12,357.16L439.51,356.94L439.89,356.71L440.28,356.47L440.67,356.23L441.06,355.96L441.45,355.68L441.84,355.38L442.23,355.08L442.62,354.78L443.01,354.48L443.40,354.20L443.79,353.93L444.18,353.69L444.57,353.45L444.96,353.22L445.35,353.00L445.74,352.78L446.13,352.57L446.52,352.38L446.91,352.20L447.29,352.02L447.68,351.84L448.07,351.66L448.46,351.50L448.85,351.36L449.24,351.25L449.63,351.18L450.02,351.12L450.41,351.06L450.80,351.02L451.19,351.00L451.58,351.01L451.97,351.07L452.36,351.16L452.75,351.27L453.14,351.40L453.53,351.54L453.92,351.67L454.31,351.80L454.69,351.95L455.08,352.11L455.47,352.28L455.86,352.46L456.25,352.65L456.64,352.85L457.03,353.06L457.42,353.28L457.81,353.51L458.20,353.75L458.59,354.03L458.98,354.34L459.37,354.65L459.76,354.97L460.15,355.29L460.54,355.60L460.93,355.88L461.32,356.14L461.71,356.39L462.09,356.64L462.48,356.89L462.87,357.13L463.26,357.37L463.65,357.60L464.04,357.83L464.43,358.06L464.82,358.28L465.21,358.50L465.60,358.71L465.99,358.92L466.38,359.13L466.77,359.33L467.16,359.54L467.55,359.73L467.94,359.93L468.33,360.12L468.72,360.31L469.11,360.49L469.49,360.67L469.88,360.85L470.27,361.02L470.66,361.19L471.05,361.36L471.44,361.52L471.83,361.69L472.22,361.85L472.61,362.00L473.00,362.16L473.39,362.32L473.78,362.47L474.17,362.62L474.56,362.78L474.95,362.93L475.34,363.08L475.73,363.23L476.12,363.39L476.51,363.54L476.89,363.70L477.28,363.86L477.67,364.02L478.06,364.18L478.45,364.34L478.84,364.50L479.23,364.67L479.62,364.83L480.01,364.99L480.40,365.15L480.79,365.31L481.18,365.47L481.57,365.63L481.96,365.78L482.35,365.94L482.74,366.09L483.13,366.23L483.52,366.37L483.91,366.51L484.29,366.65L484.68,366.77L485.07,366.90L485.46,367.02L485.85,367.13L486.24,367.23L486.63,367.33L487.02,367.43L487.41,367.53L487.80,367.62L488.19,367.72L488.58,367.81L488.97,367.90L489.36,367.99L489.75,368.08L490.14,368.17L490.53,368.25L490.92,368.33L491.31,368.41L491.69,368.48L492.08,368.55L492.47,368.62L492.86,368.69L493.25,368.75L493.64,368.80L494.03,368.85L494.42,368.90L494.81,368.94L495.20,368.98L495.59,369.02L495.98,369.05L496.37,369.08L496.76,369.11L497.15,369.14L497.54,369.16L497.93,369.19L498.32,369.22L498.71,369.24L499.09,369.27L499.48,369.29L499.87,369.31L500.26,369.33L500.65,369.36L501.04,369.38L501.43,369.39L501.82,369.41L502.21,369.43L502.60,369.45L502.99,369.47L503.38,369.48L503.77,369.50L504.16,369.51L504.55,369.53L504.94,369.54L505.33,369.55L505.72,369.57L506.11,369.58L506.49,369.59L506.88,369.60L507.27,369.61L507.66,369.62L508.05,369.63L508.44,369.64L508.83,369.65L509.22,369.66L509.61,369.66L510.00,369.67L510.39,369.68L510.78,369.69L511.17,369.69L511.56,369.70L511.95,369.71L512.34,369.71L512.73,369.72L513.12,369.73L513.51,369.73L513.89,369.74L514.28,369.75L514.67,369.75L515.06,369.76L515.45,369.77L515.84,369.77L516.23,369.78L516.62,369.79L517.01,369.79L517.40,369.80" fill="none" stroke="#ff0a0a" stroke-width="1.85" stroke-linejoin="round"/>
<defs><linearGradient id="v2e" x1="0" y1="0" x2="1" y2="0"><stop offset="0" stop-color="#2f50c8" stop-opacity="0.95"/><stop offset="0.07" stop-color="#2f50c8" stop-opacity="0.5"/><stop offset="0.15" stop-color="#2f50c8" stop-opacity="0"/><stop offset="0.85" stop-color="#2f50c8" stop-opacity="0"/><stop offset="0.93" stop-color="#2f50c8" stop-opacity="0.5"/><stop offset="1" stop-color="#2f50c8" stop-opacity="0.95"/></linearGradient><linearGradient id="v2l" x1="0" y1="0" x2="1" y2="0"><stop offset="0" stop-color="#6a2a5a"/><stop offset="0.25" stop-color="#842244"/><stop offset="0.75" stop-color="#842244"/><stop offset="1" stop-color="#6a2a5a"/></linearGradient></defs><rect x="364.1" y="257.9" width="29.20" height="43.30" fill="#05070c"/><rect x="364.1" y="260.29999999999995" width="29.20" height="12.60" fill="#111a3e"/><rect x="364.1" y="260.29999999999995" width="29.20" height="3.2" fill="#1e3282" opacity="0.75"/><path d="M364.1,272.29999999999995 Q378.70000000000005,273.9 393.3,272.29999999999995 L393.3,296.5 L364.1,296.5 Z" fill="url(#v2l)"/><path d="M365.1,272.5 Q378.70000000000005,273.79999999999995 392.3,272.5" fill="none" stroke="#a04070" stroke-width="0.8" opacity="0.7"/><rect x="364.1" y="296.5" width="29.20" height="3.90" fill="#1c2c88"/><rect x="364.1" y="260.29999999999995" width="29.20" height="12.60" fill="url(#v2e)"/><rect x="364.1" y="272.9" width="29.20" height="23.60" fill="url(#v2e)" opacity="0.3"/><rect x="364.1" y="296.5" width="29.20" height="3.90" fill="url(#v2e)"/>
<path d="M468.2,306.1 L511.90000000000003,306.1 L511.90000000000003,303.8 L517.1,308.8 L511.90000000000003,313.8 L511.90000000000003,311.5 L468.2,311.5 Z" fill="#0f17e8"/>
<text x="475.1" y="301.4" class="rb" font-size="14.2">Cd<tspan font-size="9" dy="-5">2+</tspan></text>
<line x1="356.5" y1="448.6" x2="356.5" y2="595.1" stroke="#111" stroke-width="1.5"/>
<line x1="355.8" y1="594.4" x2="518.3" y2="594.4" stroke="#111" stroke-width="1.5"/>
<line x1="352.3" y1="592.50" x2="356.5" y2="592.50" stroke="#111" stroke-width="1.2"/>
<text transform="translate(353.10,597.50) scale(1.0,1.16)" class="rb" font-size="13.5" text-anchor="end">0</text>
<line x1="352.3" y1="549.43" x2="356.5" y2="549.43" stroke="#111" stroke-width="1.2"/>
<text transform="translate(353.10,554.43) scale(1.0,1.16)" class="rb" font-size="13.5" text-anchor="end">300</text>
<line x1="352.3" y1="506.36" x2="356.5" y2="506.36" stroke="#111" stroke-width="1.2"/>
<text transform="translate(353.10,511.36) scale(1.0,1.16)" class="rb" font-size="13.5" text-anchor="end">600</text>
<line x1="352.3" y1="463.29" x2="356.5" y2="463.29" stroke="#111" stroke-width="1.2"/>
<text transform="translate(353.10,468.29) scale(1.0,1.16)" class="rb" font-size="13.5" text-anchor="end">900</text>
<line x1="354.1" y1="570.97" x2="356.5" y2="570.97" stroke="#111" stroke-width="1.1"/>
<line x1="354.1" y1="527.89" x2="356.5" y2="527.89" stroke="#111" stroke-width="1.1"/>
<line x1="354.1" y1="484.82" x2="356.5" y2="484.82" stroke="#111" stroke-width="1.1"/>
<line x1="356.50" y1="594.4" x2="356.50" y2="598.4" stroke="#111" stroke-width="1.2"/>
<text transform="translate(356.50,611.00) scale(1.0,1.16)" class="rb" font-size="13.2" text-anchor="middle">400</text>
<line x1="396.82" y1="594.4" x2="396.82" y2="597.0" stroke="#111" stroke-width="1.2"/>
<line x1="437.15" y1="594.4" x2="437.15" y2="598.4" stroke="#111" stroke-width="1.2"/>
<text transform="translate(437.15,611.00) scale(1.0,1.16)" class="rb" font-size="13.2" text-anchor="middle">600</text>
<line x1="477.47" y1="594.4" x2="477.47" y2="597.0" stroke="#111" stroke-width="1.2"/>
<line x1="517.80" y1="594.4" x2="517.80" y2="598.4" stroke="#111" stroke-width="1.2"/>
<text transform="translate(517.80,611.00) scale(1.0,1.16)" class="rb" font-size="13.2" text-anchor="middle">800</text>
<text x="438.95" y="624.00" class="rb" font-size="13.6" text-anchor="middle">Wavelength / nm</text>
<text transform="translate(324.40,530.20) rotate(-90)" class="rb" font-size="15.1" text-anchor="middle">FL intensity / a.u.</text>
<text x="363.2" y="460.6" class="rb" font-size="15.8" letter-spacing="0.6">(3)</text>
<path d="M359.80,581.40L360.19,581.55L360.58,581.70L360.97,581.85L361.37,582.00L361.76,582.15L362.15,582.30L362.54,582.45L362.93,582.60L363.32,582.75L363.71,582.91L364.11,583.06L364.50,583.23L364.89,583.41L365.28,583.61L365.67,583.81L366.06,584.03L366.46,584.25L366.85,584.47L367.24,584.68L367.63,584.89L368.02,585.09L368.41,585.27L368.80,585.43L369.20,585.56L369.59,585.67L369.98,585.75L370.37,585.79L370.76,585.80L371.15,585.80L371.54,585.80L371.94,585.80L372.33,585.80L372.72,585.80L373.11,585.80L373.50,585.80L373.89,585.80L374.28,585.80L374.68,585.80L375.07,585.80L375.46,585.80L375.85,585.80L376.24,585.80L376.63,585.80L377.03,585.80L377.42,585.81L377.81,585.84L378.20,585.90L378.59,585.97L378.98,586.05L379.37,586.14L379.77,586.23L380.16,586.32L380.55,586.41L380.94,586.49L381.33,586.56L381.72,586.65L382.11,586.74L382.51,586.83L382.90,586.92L383.29,586.99L383.68,587.05L384.07,587.09L384.46,587.10L384.85,587.08L385.25,587.04L385.64,586.98L386.03,586.91L386.42,586.81L386.81,586.71L387.20,586.59L387.59,586.47L387.99,586.27L388.38,586.01L388.77,585.68L389.16,585.32L389.55,584.94L389.94,584.55L390.34,584.17L390.73,583.76L391.12,583.31L391.51,582.84L391.90,582.34L392.29,581.80L392.68,581.23L393.08,580.62L393.47,579.96L393.86,579.23L394.25,578.41L394.64,577.50L395.03,576.43L395.42,575.19L395.82,573.81L396.21,572.30L396.60,570.68L396.99,568.96L397.38,567.18L397.77,565.33L398.16,563.45L398.56,561.52L398.95,559.43L399.34,557.21L399.73,554.86L400.12,552.42L400.51,549.90L400.91,547.33L401.30,544.73L401.69,542.11L402.08,539.49L402.47,536.78L402.86,533.99L403.25,531.14L403.65,528.25L404.04,525.36L404.43,522.48L404.82,519.62L405.21,516.61L405.60,513.48L405.99,510.34L406.39,507.31L406.78,504.48L407.17,501.98L407.56,499.91L407.95,498.10L408.34,496.50L408.73,495.18L409.13,494.22L409.52,493.38L409.91,492.76L410.30,492.60L410.69,492.66L411.08,492.78L411.48,492.94L411.87,493.17L412.26,493.57L412.65,494.12L413.04,494.78L413.43,495.72L413.82,497.03L414.22,498.62L414.61,500.41L415.00,502.33L415.39,504.28L415.78,506.20L416.17,508.20L416.56,510.34L416.96,512.61L417.35,514.96L417.74,517.39L418.13,519.86L418.52,522.35L418.91,524.84L419.30,527.31L419.70,529.78L420.09,532.35L420.48,535.00L420.87,537.68L421.26,540.36L421.65,543.01L422.05,545.57L422.44,548.02L422.83,550.31L423.22,552.43L423.61,554.51L424.00,556.58L424.39,558.60L424.79,560.56L425.18,562.41L425.57,564.12L425.96,565.68L426.35,567.03L426.74,568.16L427.13,569.10L427.53,570.00L427.92,570.83L428.31,571.60L428.70,572.31L429.09,572.94L429.48,573.51L429.87,573.99L430.27,574.40L430.66,574.73L431.05,575.03L431.44,575.33L431.83,575.61L432.22,575.88L432.62,576.13L433.01,576.37L433.40,576.58L433.79,576.76L434.18,576.91L434.57,577.04L434.96,577.13L435.36,577.18L435.75,577.20L436.14,577.18L436.53,577.15L436.92,577.09L437.31,577.02L437.70,576.93L438.10,576.83L438.49,576.72L438.88,576.60L439.27,576.49L439.66,576.37L440.05,576.26L440.44,576.15L440.84,576.05L441.23,575.95L441.62,575.88L442.01,575.81L442.40,575.75L442.79,575.69L443.18,575.63L443.58,575.58L443.97,575.52L444.36,575.47L444.75,575.41L445.14,575.34L445.53,575.28L445.93,575.20L446.32,575.12L446.71,575.02L447.10,574.87L447.49,574.70L447.88,574.52L448.27,574.32L448.67,574.13L449.06,573.95L449.45,573.80L449.84,573.68L450.23,573.61L450.62,573.60L451.01,573.65L451.41,573.74L451.80,573.86L452.19,574.02L452.58,574.21L452.97,574.41L453.36,574.61L453.75,574.82L454.15,575.03L454.54,575.22L454.93,575.40L455.32,575.60L455.71,575.80L456.10,576.00L456.50,576.21L456.89,576.43L457.28,576.65L457.67,576.88L458.06,577.11L458.45,577.34L458.84,577.58L459.24,577.82L459.63,578.06L460.02,578.30L460.41,578.55L460.80,578.80L461.19,579.04L461.58,579.29L461.98,579.54L462.37,579.79L462.76,580.04L463.15,580.29L463.54,580.56L463.93,580.84L464.32,581.12L464.72,581.41L465.11,581.70L465.50,581.99L465.89,582.28L466.28,582.57L466.67,582.86L467.07,583.14L467.46,583.41L467.85,583.67L468.24,583.91L468.63,584.14L469.02,584.36L469.41,584.56L469.81,584.75L470.20,584.93L470.59,585.12L470.98,585.29L471.37,585.47L471.76,585.64L472.15,585.80L472.55,585.96L472.94,586.11L473.33,586.26L473.72,586.39L474.11,586.53L474.50,586.65L474.89,586.77L475.29,586.87L475.68,586.97L476.07,587.06L476.46,587.14L476.85,587.22L477.24,587.28L477.64,587.35L478.03,587.41L478.42,587.46L478.81,587.51L479.20,587.57L479.59,587.62L479.98,587.67L480.38,587.73L480.77,587.79L481.16,587.86L481.55,587.92L481.94,588.00L482.33,588.08L482.72,588.18L483.12,588.31L483.51,588.45L483.90,588.61L484.29,588.79L484.68,588.97L485.07,589.17L485.46,589.36L485.86,589.56L486.25,589.76L486.64,589.94L487.03,590.12L487.42,590.29L487.81,590.43L488.21,590.56L488.60,590.67L488.99,590.74L489.38,590.79L489.77,590.80L490.16,590.77L490.55,590.72L490.95,590.64L491.34,590.55L491.73,590.47L492.12,590.39L492.51,590.33L492.90,590.30L493.29,590.31L493.69,590.34L494.08,590.40L494.47,590.47L494.86,590.56L495.25,590.66L495.64,590.78L496.03,590.89L496.43,591.01L496.82,591.13L497.21,591.25L497.60,591.36L497.99,591.46L498.38,591.54L498.77,591.61L499.17,591.67L499.56,591.74L499.95,591.80L500.34,591.86L500.73,591.91L501.12,591.97L501.52,592.02L501.91,592.06L502.30,592.10L502.69,592.14L503.08,592.17L503.47,592.19L503.86,592.21L504.26,592.23L504.65,592.24L505.04,592.26L505.43,592.27L505.82,592.28L506.21,592.30L506.60,592.31L507.00,592.32L507.39,592.33L507.78,592.34L508.17,592.35L508.56,592.36L508.95,592.37L509.34,592.37L509.74,592.38L510.13,592.39L510.52,592.40L510.91,592.40L511.30,592.41L511.69,592.42L512.09,592.42L512.48,592.43L512.87,592.44L513.26,592.44L513.65,592.45L514.04,592.46L514.43,592.47L514.83,592.47L515.22,592.48L515.61,592.49L516.00,592.50" fill="none" stroke="#86920e" stroke-width="1.85" stroke-linejoin="round"/>
<defs><linearGradient id="v3e" x1="0" y1="0" x2="1" y2="0"><stop offset="0" stop-color="#1c7cf6" stop-opacity="0.95"/><stop offset="0.07" stop-color="#1c7cf6" stop-opacity="0.5"/><stop offset="0.15" stop-color="#1c7cf6" stop-opacity="0"/><stop offset="0.85" stop-color="#1c7cf6" stop-opacity="0"/><stop offset="0.93" stop-color="#1c7cf6" stop-opacity="0.5"/><stop offset="1" stop-color="#1c7cf6" stop-opacity="0.95"/></linearGradient><linearGradient id="v3l" x1="0" y1="0" x2="1" y2="0"><stop offset="0" stop-color="#3a7a6a"/><stop offset="0.25" stop-color="#72903a"/><stop offset="0.75" stop-color="#72903a"/><stop offset="1" stop-color="#3a7a6a"/></linearGradient></defs><rect x="364.0" y="478.4" width="29.10" height="44.40" fill="#05070c"/><rect x="364.0" y="480.79999999999995" width="29.10" height="11.90" fill="#0b1d4a"/><rect x="364.0" y="480.79999999999995" width="29.10" height="3.2" fill="#1858c0" opacity="0.75"/><path d="M364.0,492.09999999999997 Q378.55,493.7 393.1,492.09999999999997 L393.1,518.3 L364.0,518.3 Z" fill="url(#v3l)"/><path d="M365.0,492.3 Q378.55,493.59999999999997 392.1,492.3" fill="none" stroke="#a8c8a0" stroke-width="0.8" opacity="0.7"/><rect x="364.0" y="518.3" width="29.10" height="3.70" fill="#1040a8"/><rect x="364.0" y="480.79999999999995" width="29.10" height="11.90" fill="url(#v3e)"/><rect x="364.0" y="492.7" width="29.10" height="25.60" fill="url(#v3e)" opacity="0.3"/><rect x="364.0" y="518.3" width="29.10" height="3.70" fill="url(#v3e)"/>
<path d="M0,-102.7 L-4.2,-102.7 L-4.2,-105 L1,-100 L-4.2,-95 L-4.2,-97.3 L0,-97.3 Z" fill="#0f17e8"/>
<text x="0" y="0" class="rb" font-size="14.2"></text>
</svg></body></html>
